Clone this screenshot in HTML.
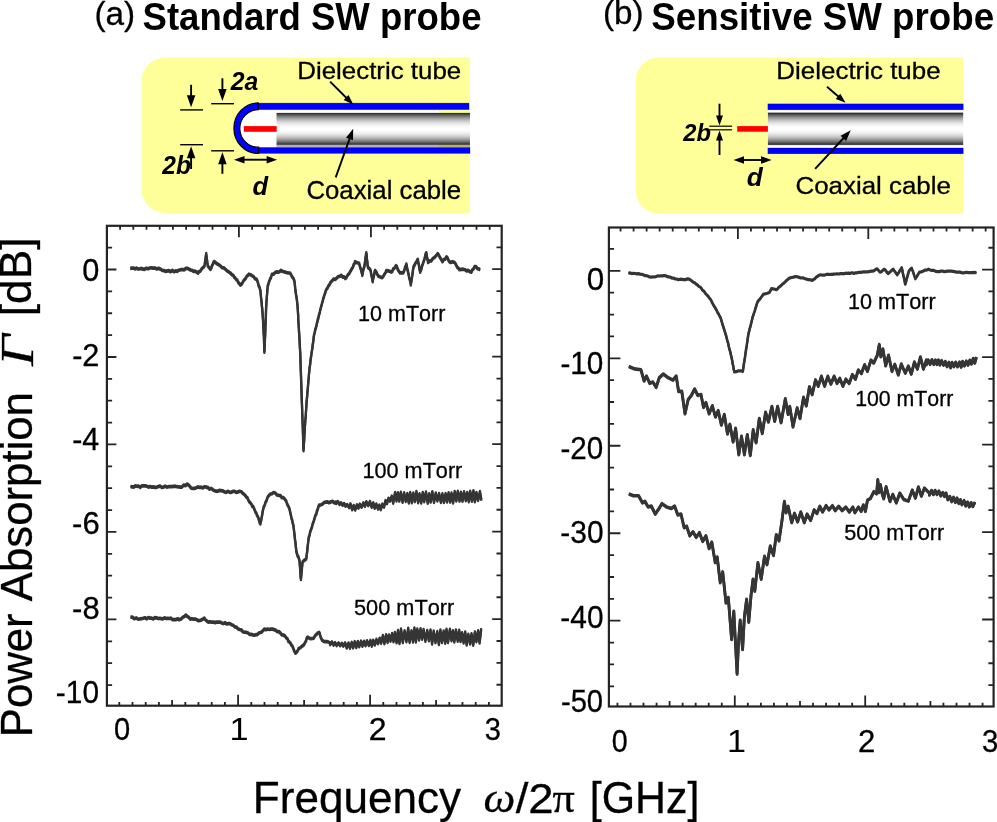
<!DOCTYPE html>
<html lang="en"><head><meta charset="utf-8"><title>SW probe power absorption spectra</title>
<style>
html,body{margin:0;padding:0;background:#fff;}
body{width:997px;height:822px;overflow:hidden;}
svg{display:block;}
text{font-kerning:none;white-space:pre;}
</style></head><body>
<svg width="997" height="822" viewBox="0 0 997 822">
<defs>
<linearGradient id="cab" x1="0" y1="0" x2="0" y2="1">
<stop offset="0.00" stop-color="#242424"/><stop offset="0.06" stop-color="#555555"/><stop offset="0.12" stop-color="#818181"/><stop offset="0.18" stop-color="#a5a5a5"/><stop offset="0.25" stop-color="#c8c8c8"/><stop offset="0.32" stop-color="#e3e3e3"/><stop offset="0.38" stop-color="#f2f2f2"/><stop offset="0.44" stop-color="#fcfcfc"/><stop offset="0.50" stop-color="#ffffff"/><stop offset="0.56" stop-color="#fcfcfc"/><stop offset="0.62" stop-color="#f2f2f2"/><stop offset="0.68" stop-color="#e3e3e3"/><stop offset="0.75" stop-color="#c8c8c8"/><stop offset="0.82" stop-color="#a5a5a5"/><stop offset="0.88" stop-color="#818181"/><stop offset="0.94" stop-color="#555555"/><stop offset="1.00" stop-color="#242424"/>
</linearGradient>
<filter id="bl" filterUnits="userSpaceOnUse" x="100" y="220" width="897" height="500"><feGaussianBlur stdDeviation="0.55"/></filter>
</defs>
<rect x="0" y="0" width="997" height="822" fill="#ffffff"/>

<text transform="matrix(0.9764,0,0,1,94.43,24.53)" font-family='"Liberation Sans", Arial, Helvetica, sans-serif' font-size="34.13" stroke="#000" stroke-width="0.3" fill="#000">(a)</text>
<text transform="matrix(0.9260,0,0,1,142.55,29.60)" font-family='"Liberation Sans", Arial, Helvetica, sans-serif' font-size="39.47" font-weight="bold" fill="#000">Standard SW probe</text>
<text transform="matrix(0.9768,0,0,1,602.94,24.26)" font-family='"Liberation Sans", Arial, Helvetica, sans-serif' font-size="34.03" stroke="#000" stroke-width="0.3" fill="#000">(b)</text>
<text transform="matrix(0.9307,0,0,1,651.34,29.60)" font-family='"Liberation Sans", Arial, Helvetica, sans-serif' font-size="39.47" font-weight="bold" fill="#000">Sensitive SW probe</text>
<path d="M470,57.5 H165.4 A24,24 0 0 0 141.4,81.5 V189 A24,24 0 0 0 165.4,213 H470 Z" fill="#ffff99"/>
<path d="M258.2,109.7 H439 V147.2 H258.6 A18.6,18.75 0 0 1 258.2,109.7 Z" fill="#fff"/>
<rect x="276.5" y="144.8" width="193.5" height="2.4" fill="#000" fill-opacity="0.3"/>
<rect x="276.5" y="112.9" width="193.5" height="31.9" fill="url(#cab)"/>
<rect x="258" y="103.1" width="211" height="6.5" fill="#0000ff" stroke="#000" stroke-opacity="0.55" stroke-width="0.5"/>
<rect x="258" y="147.5" width="212" height="5.9" fill="#0000ff" stroke="#000" stroke-opacity="0.55" stroke-width="0.5"/>
<path d="M258.2,102.9 A24.5,25.3 0 0 0 258.6,153.5 V147.2 A18.6,18.75 0 0 1 258.2,109.7 Z" fill="#0000ff" stroke="#000" stroke-width="1.2" stroke-linejoin="miter"/>
<rect x="243.8" y="126.1" width="32.9" height="5.7" fill="#ff0000"/>
<line x1="180.2" y1="109.9" x2="203" y2="109.9" stroke="#000" stroke-width="1.4"/>
<line x1="180.2" y1="144.7" x2="203" y2="144.7" stroke="#000" stroke-width="1.4"/>
<line x1="211.2" y1="103.7" x2="234" y2="103.7" stroke="#000" stroke-width="1.4"/>
<line x1="211.2" y1="150.8" x2="234" y2="150.8" stroke="#000" stroke-width="1.4"/>
<line x1="191.10" y1="84.80" x2="191.10" y2="97.70" stroke="#000" stroke-width="1.9"/>
<polygon points="191.10,107.30 186.85,95.30 195.35,95.30" fill="#000"/>
<line x1="222.40" y1="78.30" x2="222.40" y2="91.40" stroke="#000" stroke-width="1.9"/>
<polygon points="222.40,101.00 218.15,89.00 226.65,89.00" fill="#000"/>
<line x1="191.10" y1="169.00" x2="191.10" y2="155.80" stroke="#000" stroke-width="1.9"/>
<polygon points="191.10,146.20 195.35,158.20 186.85,158.20" fill="#000"/>
<line x1="222.40" y1="173.80" x2="222.40" y2="161.80" stroke="#000" stroke-width="1.9"/>
<polygon points="222.40,152.20 226.65,164.20 218.15,164.20" fill="#000"/>
<line x1="242.40" y1="159.70" x2="268.70" y2="159.70" stroke="#000" stroke-width="1.9"/>
<polygon points="277.10,159.70 266.60,163.45 266.60,155.95" fill="#000"/>
<polygon points="234.00,159.70 244.50,163.45 244.50,155.95" fill="#000"/>
<line x1="330.10" y1="81.70" x2="347.52" y2="98.97" stroke="#000" stroke-width="1.9"/>
<polygon points="353.20,104.60 343.63,100.05 348.56,95.07" fill="#000"/>
<line x1="335.70" y1="177.40" x2="350.22" y2="136.98" stroke="#000" stroke-width="1.9"/>
<polygon points="353.20,128.70 353.01,140.32 345.95,137.78" fill="#000"/>
<text transform="matrix(0.9903,0,0,1,230.69,90.26)" font-family='"Liberation Sans", Arial, Helvetica, sans-serif' font-size="25.00" font-weight="bold" font-style="italic" fill="#000">2a</text>
<text transform="matrix(0.9843,0,0,1,162.28,173.86)" font-family='"Liberation Sans", Arial, Helvetica, sans-serif' font-size="24.92" font-weight="bold" font-style="italic" fill="#000">2b</text>
<text transform="matrix(1.0247,0,0,1,252.58,195.34)" font-family='"Liberation Sans", Arial, Helvetica, sans-serif' font-size="24.90" font-weight="bold" font-style="italic" fill="#000">d</text>
<text transform="matrix(1.0618,0,0,1,297.28,79.06)" font-family='"Liberation Sans", Arial, Helvetica, sans-serif' font-size="24.37" stroke="#000" stroke-width="0.3" fill="#000">Dielectric tube</text>
<text transform="matrix(1.0239,0,0,1,306.39,199.45)" font-family='"Liberation Sans", Arial, Helvetica, sans-serif' font-size="25.19" stroke="#000" stroke-width="0.3" fill="#000">Coaxial cable</text>
<path d="M963.2,57.4 H658.7 A23,23 0 0 0 635.7,80.4 V190.6 A23,23 0 0 0 658.7,213.6 H963.2 Z" fill="#ffff99"/>
<rect x="767.9" y="109.8" width="195.3" height="38.2" fill="#fff"/>
<rect x="767.9" y="112.8" width="195.3" height="32.0" fill="url(#cab)"/>
<path d="M767.9,112.8H963.2M767.9,144.8H963.2" stroke="#000" stroke-opacity="0.5" stroke-width="0.5" fill="none"/>
<rect x="767.9" y="103.9" width="195.3" height="5.9" fill="#0000ff" stroke="#000" stroke-opacity="0.55" stroke-width="0.5"/>
<rect x="767.9" y="148.0" width="195.3" height="5.8" fill="#0000ff" stroke="#000" stroke-opacity="0.55" stroke-width="0.5"/>
<rect x="737.2" y="126.1" width="30.7" height="5.6" fill="#ff0000"/>
<line x1="709.3" y1="126.2" x2="732.1" y2="126.2" stroke="#000" stroke-width="1.2"/>
<line x1="709.3" y1="129.8" x2="732.1" y2="129.8" stroke="#000" stroke-width="1.2"/>
<line x1="719.50" y1="103.70" x2="719.50" y2="117.60" stroke="#000" stroke-width="1.9"/>
<polygon points="719.50,125.60 716.00,115.60 723.00,115.60" fill="#000"/>
<line x1="719.50" y1="155.00" x2="719.50" y2="138.60" stroke="#000" stroke-width="1.9"/>
<polygon points="719.50,130.60 723.00,140.60 716.00,140.60" fill="#000"/>
<line x1="741.90" y1="160.00" x2="763.10" y2="160.00" stroke="#000" stroke-width="1.9"/>
<polygon points="771.50,160.00 761.00,163.75 761.00,156.25" fill="#000"/>
<polygon points="733.50,160.00 744.00,163.75 744.00,156.25" fill="#000"/>
<line x1="827.00" y1="86.80" x2="839.54" y2="97.58" stroke="#000" stroke-width="1.9"/>
<polygon points="845.60,102.80 835.74,98.93 840.30,93.63" fill="#000"/>
<line x1="815.10" y1="168.90" x2="844.82" y2="136.76" stroke="#000" stroke-width="1.9"/>
<polygon points="850.80,130.30 846.08,140.92 840.58,135.83" fill="#000"/>
<text transform="matrix(0.9653,0,0,1,683.27,140.96)" font-family='"Liberation Sans", Arial, Helvetica, sans-serif' font-size="24.51" font-weight="bold" font-style="italic" fill="#000">2b</text>
<text transform="matrix(1.0345,0,0,1,746.66,185.94)" font-family='"Liberation Sans", Arial, Helvetica, sans-serif' font-size="25.31" font-weight="bold" font-style="italic" fill="#000">d</text>
<text transform="matrix(1.0881,0,0,1,776.37,78.97)" font-family='"Liberation Sans", Arial, Helvetica, sans-serif' font-size="23.83" stroke="#000" stroke-width="0.3" fill="#000">Dielectric tube</text>
<text transform="matrix(1.0442,0,0,1,795.49,193.76)" font-family='"Liberation Sans", Arial, Helvetica, sans-serif' font-size="24.78" stroke="#000" stroke-width="0.3" fill="#000">Coaxial cable</text>
<rect x="106.9" y="225.8" width="394.80" height="479.90" fill="none" stroke="#242424" stroke-width="2.2"/>
<path d="M119.30,705.70L119.30,701.90M132.50,705.70L132.50,701.90M145.70,705.70L145.70,701.90M158.90,705.70L158.90,701.90M172.10,705.70L172.10,700.10M185.30,705.70L185.30,701.90M198.50,705.70L198.50,701.90M211.70,705.70L211.70,701.90M224.90,705.70L224.90,701.90M238.10,705.70L238.10,694.70M251.30,705.70L251.30,701.90M264.50,705.70L264.50,701.90M277.70,705.70L277.70,701.90M290.90,705.70L290.90,701.90M304.10,705.70L304.10,700.10M317.30,705.70L317.30,701.90M330.50,705.70L330.50,701.90M343.70,705.70L343.70,701.90M356.90,705.70L356.90,701.90M370.10,705.70L370.10,694.70M383.30,705.70L383.30,701.90M396.50,705.70L396.50,701.90M409.70,705.70L409.70,701.90M422.90,705.70L422.90,701.90M436.10,705.70L436.10,700.10M449.30,705.70L449.30,701.90M462.50,705.70L462.50,701.90M475.70,705.70L475.70,701.90M488.90,705.70L488.90,701.90M120.10,225.80L120.10,229.80M133.30,225.80L133.30,229.80M146.50,225.80L146.50,229.80M159.70,225.80L159.70,229.80M172.90,225.80L172.90,229.80M186.10,225.80L186.10,229.80M199.30,225.80L199.30,229.80M212.50,225.80L212.50,229.80M225.70,225.80L225.70,229.80M238.90,225.80L238.90,237.30M252.10,225.80L252.10,229.80M265.30,225.80L265.30,229.80M278.50,225.80L278.50,229.80M291.70,225.80L291.70,229.80M304.90,225.80L304.90,229.80M318.10,225.80L318.10,229.80M331.30,225.80L331.30,229.80M344.50,225.80L344.50,229.80M357.70,225.80L357.70,229.80M370.90,225.80L370.90,237.30M384.10,225.80L384.10,229.80M397.30,225.80L397.30,229.80M410.50,225.80L410.50,229.80M423.70,225.80L423.70,229.80M436.90,225.80L436.90,229.80M450.10,225.80L450.10,229.80M463.30,225.80L463.30,229.80M476.50,225.80L476.50,229.80M489.70,225.80L489.70,229.80M106.90,247.63L112.10,247.63M501.70,247.33L496.50,247.33M106.90,269.50L116.40,269.50M501.70,269.20L492.20,269.20M106.90,291.37L112.10,291.37M501.70,291.07L496.50,291.07M106.90,313.24L112.10,313.24M501.70,312.94L496.50,312.94M106.90,335.11L112.10,335.11M501.70,334.81L496.50,334.81M106.90,356.98L116.40,356.98M501.70,356.68L492.20,356.68M106.90,378.85L112.10,378.85M501.70,378.55L496.50,378.55M106.90,400.72L112.10,400.72M501.70,400.42L496.50,400.42M106.90,422.59L112.10,422.59M501.70,422.29L496.50,422.29M106.90,444.46L116.40,444.46M501.70,444.16L492.20,444.16M106.90,466.33L112.10,466.33M501.70,466.03L496.50,466.03M106.90,488.20L112.10,488.20M501.70,487.90L496.50,487.90M106.90,510.07L112.10,510.07M501.70,509.77L496.50,509.77M106.90,531.94L116.40,531.94M501.70,531.64L492.20,531.64M106.90,553.81L112.10,553.81M501.70,553.51L496.50,553.51M106.90,575.68L112.10,575.68M501.70,575.38L496.50,575.38M106.90,597.55L112.10,597.55M501.70,597.25L496.50,597.25M106.90,619.42L116.40,619.42M501.70,619.12L492.20,619.12M106.90,641.29L112.10,641.29M501.70,640.99L496.50,640.99M106.90,663.16L112.10,663.16M501.70,662.86L496.50,662.86M106.90,685.03L112.10,685.03M501.70,684.73L496.50,684.73" stroke="#242424" stroke-width="1.8" fill="none"/>
<rect x="608.9" y="227.5" width="384.70" height="479.00" fill="none" stroke="#242424" stroke-width="2.2"/>
<path d="M617.44,706.50L617.44,702.70M630.48,706.50L630.48,702.70M643.52,706.50L643.52,702.70M656.56,706.50L656.56,702.70M669.60,706.50L669.60,700.90M682.64,706.50L682.64,702.70M695.68,706.50L695.68,702.70M708.72,706.50L708.72,702.70M721.76,706.50L721.76,702.70M734.80,706.50L734.80,695.50M747.84,706.50L747.84,702.70M760.88,706.50L760.88,702.70M773.92,706.50L773.92,702.70M786.96,706.50L786.96,702.70M800.00,706.50L800.00,700.90M813.04,706.50L813.04,702.70M826.08,706.50L826.08,702.70M839.12,706.50L839.12,702.70M852.16,706.50L852.16,702.70M865.20,706.50L865.20,695.50M878.24,706.50L878.24,702.70M891.28,706.50L891.28,702.70M904.32,706.50L904.32,702.70M917.36,706.50L917.36,702.70M930.40,706.50L930.40,700.90M943.44,706.50L943.44,702.70M956.48,706.50L956.48,702.70M969.52,706.50L969.52,702.70M982.56,706.50L982.56,702.70M620.54,227.50L620.54,231.50M633.58,227.50L633.58,231.50M646.62,227.50L646.62,231.50M659.66,227.50L659.66,231.50M672.70,227.50L672.70,231.50M685.74,227.50L685.74,231.50M698.78,227.50L698.78,231.50M711.82,227.50L711.82,231.50M724.86,227.50L724.86,231.50M737.90,227.50L737.90,239.00M750.94,227.50L750.94,231.50M763.98,227.50L763.98,231.50M777.02,227.50L777.02,231.50M790.06,227.50L790.06,231.50M803.10,227.50L803.10,231.50M816.14,227.50L816.14,231.50M829.18,227.50L829.18,231.50M842.22,227.50L842.22,231.50M855.26,227.50L855.26,231.50M868.30,227.50L868.30,239.00M881.34,227.50L881.34,231.50M894.38,227.50L894.38,231.50M907.42,227.50L907.42,231.50M920.46,227.50L920.46,231.50M933.50,227.50L933.50,231.50M946.54,227.50L946.54,231.50M959.58,227.50L959.58,231.50M972.62,227.50L972.62,231.50M985.66,227.50L985.66,231.50M608.90,248.93L614.10,248.93M993.60,247.73L988.40,247.73M608.90,270.80L620.40,270.80M993.60,269.60L982.10,269.60M608.90,292.67L614.10,292.67M993.60,291.47L988.40,291.47M608.90,314.54L614.10,314.54M993.60,313.34L988.40,313.34M608.90,336.41L614.10,336.41M993.60,335.21L988.40,335.21M608.90,358.28L620.40,358.28M993.60,357.08L982.10,357.08M608.90,380.15L614.10,380.15M993.60,378.95L988.40,378.95M608.90,402.02L614.10,402.02M993.60,400.82L988.40,400.82M608.90,423.89L614.10,423.89M993.60,422.69L988.40,422.69M608.90,445.76L620.40,445.76M993.60,444.56L982.10,444.56M608.90,467.63L614.10,467.63M993.60,466.43L988.40,466.43M608.90,489.50L614.10,489.50M993.60,488.30L988.40,488.30M608.90,511.37L614.10,511.37M993.60,510.17L988.40,510.17M608.90,533.24L620.40,533.24M993.60,532.04L982.10,532.04M608.90,555.11L614.10,555.11M993.60,553.91L988.40,553.91M608.90,576.98L614.10,576.98M993.60,575.78L988.40,575.78M608.90,598.85L614.10,598.85M993.60,597.65L988.40,597.65M608.90,620.72L620.40,620.72M993.60,619.52L982.10,619.52M608.90,642.59L614.10,642.59M993.60,641.39L988.40,641.39M608.90,664.46L614.10,664.46M993.60,663.26L988.40,663.26M608.90,686.33L614.10,686.33M993.60,685.13L988.40,685.13" stroke="#242424" stroke-width="1.8" fill="none"/>
<text transform="matrix(1.0049,0,0,1,82.20,280.98)" font-family='"Liberation Sans", Arial, Helvetica, sans-serif' font-size="30.60" stroke="#000" stroke-width="0.3" fill="#000">0</text>
<text transform="matrix(1.0037,0,0,1,72.14,365.83)" font-family='"Liberation Sans", Arial, Helvetica, sans-serif' font-size="30.60" stroke="#000" stroke-width="0.3" fill="#000">-2</text>
<text transform="matrix(0.9939,0,0,1,72.15,449.78)" font-family='"Liberation Sans", Arial, Helvetica, sans-serif' font-size="30.60" stroke="#000" stroke-width="0.3" fill="#000">-4</text>
<text transform="matrix(1.0121,0,0,1,72.12,534.18)" font-family='"Liberation Sans", Arial, Helvetica, sans-serif' font-size="30.60" stroke="#000" stroke-width="0.3" fill="#000">-6</text>
<text transform="matrix(1.0115,0,0,1,72.12,618.58)" font-family='"Liberation Sans", Arial, Helvetica, sans-serif' font-size="30.60" stroke="#000" stroke-width="0.3" fill="#000">-8</text>
<text transform="matrix(0.9767,0,0,1,55.87,703.18)" font-family='"Liberation Sans", Arial, Helvetica, sans-serif' font-size="30.60" stroke="#000" stroke-width="0.3" fill="#000">-10</text>
<text transform="matrix(0.9503,0,0,1,114.06,740.48)" font-family='"Liberation Sans", Arial, Helvetica, sans-serif' font-size="30.60" stroke="#000" stroke-width="0.3" fill="#000">0</text>
<text transform="matrix(1.1200,0,0,1,229.45,740.38)" font-family='"Liberation Sans", Arial, Helvetica, sans-serif' font-size="30.60" fill="#000">1</text>
<text transform="matrix(1.0473,0,0,1,368.79,740.43)" font-family='"Liberation Sans", Arial, Helvetica, sans-serif' font-size="30.60" stroke="#000" stroke-width="0.3" fill="#000">2</text>
<text transform="matrix(0.9512,0,0,1,484.79,740.48)" font-family='"Liberation Sans", Arial, Helvetica, sans-serif' font-size="30.60" stroke="#000" stroke-width="0.3" fill="#000">3</text>
<text transform="matrix(1.0255,0,0,1,586.77,289.98)" font-family='"Liberation Sans", Arial, Helvetica, sans-serif' font-size="30.60" stroke="#000" stroke-width="0.3" fill="#000">0</text>
<text transform="matrix(0.9719,0,0,1,560.38,373.88)" font-family='"Liberation Sans", Arial, Helvetica, sans-serif' font-size="30.60" stroke="#000" stroke-width="0.3" fill="#000">-10</text>
<text transform="matrix(0.9671,0,0,1,560.39,458.58)" font-family='"Liberation Sans", Arial, Helvetica, sans-serif' font-size="30.60" stroke="#000" stroke-width="0.3" fill="#000">-20</text>
<text transform="matrix(0.9791,0,0,1,560.37,542.78)" font-family='"Liberation Sans", Arial, Helvetica, sans-serif' font-size="30.60" stroke="#000" stroke-width="0.3" fill="#000">-30</text>
<text transform="matrix(0.9767,0,0,1,560.37,627.58)" font-family='"Liberation Sans", Arial, Helvetica, sans-serif' font-size="30.60" stroke="#000" stroke-width="0.3" fill="#000">-40</text>
<text transform="matrix(0.9551,0,0,1,560.90,712.28)" font-family='"Liberation Sans", Arial, Helvetica, sans-serif' font-size="30.60" stroke="#000" stroke-width="0.3" fill="#000">-50</text>
<text transform="matrix(0.9366,0,0,1,611.78,751.98)" font-family='"Liberation Sans", Arial, Helvetica, sans-serif' font-size="30.60" stroke="#000" stroke-width="0.3" fill="#000">0</text>
<text transform="matrix(1.1200,0,0,1,727.05,752.08)" font-family='"Liberation Sans", Arial, Helvetica, sans-serif' font-size="30.60" fill="#000">1</text>
<text transform="matrix(1.0186,0,0,1,857.93,752.33)" font-family='"Liberation Sans", Arial, Helvetica, sans-serif' font-size="30.60" stroke="#000" stroke-width="0.3" fill="#000">2</text>
<text transform="matrix(0.9581,0,0,1,981.88,751.98)" font-family='"Liberation Sans", Arial, Helvetica, sans-serif' font-size="30.60" stroke="#000" stroke-width="0.3" fill="#000">3</text>
<text transform="matrix(0.9546,0,0,1,357.96,320.98)" font-family='"Liberation Sans", Arial, Helvetica, sans-serif' font-size="22.60" stroke="#000" stroke-width="0.3" fill="#000">10 mTorr</text>
<text transform="matrix(0.9585,0,0,1,362.45,478.08)" font-family='"Liberation Sans", Arial, Helvetica, sans-serif' font-size="22.60" stroke="#000" stroke-width="0.3" fill="#000">100 mTorr</text>
<text transform="matrix(0.9556,0,0,1,354.03,615.18)" font-family='"Liberation Sans", Arial, Helvetica, sans-serif' font-size="22.74" stroke="#000" stroke-width="0.3" fill="#000">500 mTorr</text>
<text transform="matrix(0.9762,0,0,1,847.95,309.08)" font-family='"Liberation Sans", Arial, Helvetica, sans-serif' font-size="22.17" stroke="#000" stroke-width="0.3" fill="#000">10 mTorr</text>
<text transform="matrix(0.9796,0,0,1,855.18,406.39)" font-family='"Liberation Sans", Arial, Helvetica, sans-serif' font-size="21.75" stroke="#000" stroke-width="0.3" fill="#000">100 mTorr</text>
<text transform="matrix(0.9587,0,0,1,844.23,540.38)" font-family='"Liberation Sans", Arial, Helvetica, sans-serif' font-size="22.60" stroke="#000" stroke-width="0.3" fill="#000">500 mTorr</text>
<text transform="matrix(0.9848,0,0,1,252.78,812.70)" font-family='"Liberation Sans", Arial, Helvetica, sans-serif' font-size="44.77" stroke="#000" stroke-width="0.3" fill="#000">Frequency</text>
<text transform="matrix(1.0859,0,0,1,483.40,812.29)" font-family='"Liberation Serif", "Times New Roman", serif' font-size="41.59" stroke="#000" stroke-width="0.3" font-style="italic" fill="#000">ω</text>
<text transform="matrix(1.0648,0,0,1,515.70,812.60)" font-family='"Liberation Sans", Arial, Helvetica, sans-serif' font-size="42.78" stroke="#000" stroke-width="0.3" fill="#000">/2</text>
<text transform="matrix(1.0658,0,0,1,552.40,812.30)" font-family='"Liberation Serif", "Times New Roman", serif' font-size="41.39" stroke="#000" stroke-width="0.3" fill="#000">π</text>
<text transform="matrix(0.9652,0,0,1,589.74,812.60)" font-family='"Liberation Sans", Arial, Helvetica, sans-serif' font-size="44.44" stroke="#000" stroke-width="0.3" fill="#000">[GHz]</text>
<g transform="rotate(-90)">
<text transform="matrix(0.9938,0,0,1,-737.29,31.90)" font-family='"Liberation Sans", Arial, Helvetica, sans-serif' font-size="44.02" stroke="#000" stroke-width="0.3" fill="#000">Power Absorption</text>
<text transform="matrix(1.1805,0,0,1,-366.04,32.50)" font-family='"Liberation Serif", "Times New Roman", serif' font-size="46.89" stroke="#000" stroke-width="0.3" font-style="italic" fill="#000">Γ</text>
<text transform="matrix(1.0184,0,0,1,-316.25,31.48)" font-family='"Liberation Sans", Arial, Helvetica, sans-serif' font-size="43.45" stroke="#000" stroke-width="0.3" fill="#000">[dB]</text>
</g>
<g fill="none" stroke="#343434" stroke-width="2.3" stroke-linejoin="round" stroke-linecap="butt" filter="url(#bl)"><path d="M130.2,267.7 L131.8,267.5 L133.4,267.3 L135.0,268.2 L136.6,267.4 L138.2,268.3 L139.8,268.1 L141.4,267.7 L143.0,268.5 L144.6,268.6 L146.3,267.6 L148.1,268.1 L149.8,267.3 L151.5,267.1 L153.3,267.4 L155.0,267.3 L156.8,268.3 L158.6,267.7 L160.5,268.4 L162.3,269.6 L164.1,269.9 L165.7,270.7 L167.4,270.2 L169.0,270.0 L170.6,271.0 L172.3,269.6 L173.9,271.0 L175.6,270.2 L177.2,270.6 L178.9,269.5 L180.7,269.0 L182.4,268.8 L184.1,269.2 L185.9,267.7 L187.6,267.7 L189.1,268.5 L190.6,269.3 L192.1,269.6 L193.5,270.6 L195.0,270.5 L196.5,271.2 L198.0,272.6 L199.1,270.9 L200.2,270.5 L201.2,268.9 L202.3,267.5 L203.4,266.7 L204.5,265.4 L204.7,263.6 L205.0,261.5 L205.2,260.6 L205.5,258.6 L205.7,256.1 L206.0,254.9 L206.2,253.0 L206.4,254.8 L206.7,257.1 L206.9,258.7 L207.1,259.7 L207.3,262.6 L207.6,263.0 L207.8,265.4 L209.1,266.9 L210.4,268.6 L211.2,267.5 L212.0,264.9 L212.7,263.9 L213.5,261.6 L214.3,260.8 L215.8,262.2 L217.4,263.4 L218.9,264.1 L220.5,265.3 L222.2,267.0 L223.8,267.2 L225.4,268.6 L226.7,269.9 L228.0,270.7 L229.3,271.7 L230.6,272.5 L231.9,274.1 L233.2,274.5 L234.2,276.6 L235.3,277.3 L236.3,279.0 L237.3,279.4 L238.3,281.8 L239.4,283.1 L240.4,284.3 L241.5,283.7 L242.5,282.1 L243.6,279.9 L244.7,278.7 L245.7,277.8 L246.8,275.4 L247.8,274.8 L248.9,273.5 L250.5,274.0 L252.0,275.0 L253.6,275.9 L255.1,278.1 L256.7,278.7 L257.2,279.7 L257.8,281.6 L258.3,283.5 L258.9,285.9 L259.4,286.2 L260.0,288.5 L260.5,290.2 L260.6,291.9 L260.8,294.1 L260.9,295.6 L261.1,297.4 L261.2,298.1 L261.4,299.9 L261.6,301.5 L261.7,304.0 L261.9,305.7 L262.0,306.1 L262.2,307.8 L262.3,309.5 L262.5,311.1 L262.6,313.2 L262.7,314.8 L262.8,316.6 L262.9,317.7 L263.0,319.0 L263.1,321.3 L263.2,322.8 L263.2,324.8 L263.3,327.1 L263.4,328.3 L263.5,329.7 L263.6,331.5 L263.7,333.2 L263.8,333.8 L263.9,336.2 L264.0,338.5 L264.0,340.0 L264.1,341.9 L264.1,343.5 L264.2,344.5 L264.2,346.2 L264.3,347.5 L264.3,350.0 L264.4,351.5 L264.5,349.1 L264.6,347.4 L264.6,345.9 L264.7,344.2 L264.8,342.7 L264.9,340.6 L264.9,338.8 L265.0,337.3 L265.1,336.2 L265.2,333.9 L265.2,332.8 L265.3,330.6 L265.3,330.3 L265.4,328.3 L265.4,325.9 L265.5,324.5 L265.6,323.0 L265.6,321.4 L265.7,319.4 L265.7,319.0 L265.8,317.6 L265.9,315.1 L265.9,313.6 L266.0,311.3 L266.0,309.7 L266.1,308.5 L266.1,306.7 L266.2,305.5 L266.3,304.3 L266.4,301.6 L266.6,299.6 L266.7,299.4 L266.8,297.0 L266.9,294.7 L267.1,293.7 L267.2,291.1 L267.3,290.2 L267.4,289.3 L267.6,287.4 L267.7,285.1 L268.3,283.8 L268.9,281.4 L269.5,280.0 L270.2,278.0 L270.8,277.3 L271.4,275.3 L272.0,273.6 L273.5,273.4 L275.0,272.0 L276.5,271.2 L278.0,271.5 L279.5,271.1 L281.0,269.7 L282.8,270.8 L284.6,271.2 L286.3,271.8 L288.1,272.2 L289.9,272.3 L290.8,273.4 L291.7,275.4 L292.5,276.7 L293.4,277.7 L294.3,280.0 L294.5,280.8 L294.7,282.8 L294.9,284.4 L295.1,286.7 L295.3,288.7 L295.5,289.5 L295.7,291.9 L296.0,293.5 L296.2,295.1 L296.4,295.7 L296.6,297.1 L296.8,298.7 L297.0,300.2 L297.2,301.8 L297.4,304.1 L297.6,305.5 L297.7,307.8 L297.8,309.3 L297.9,310.4 L298.0,312.3 L298.1,314.2 L298.2,314.7 L298.2,317.3 L298.3,319.3 L298.4,320.7 L298.5,322.3 L298.6,323.5 L298.7,324.7 L298.8,327.3 L298.9,328.2 L299.0,330.6 L299.1,332.5 L299.2,333.3 L299.3,334.9 L299.4,337.4 L299.5,338.7 L299.6,339.5 L299.6,341.0 L299.7,342.7 L299.8,345.6 L299.9,347.1 L300.0,347.6 L300.1,350.4 L300.2,351.5 L300.3,353.9 L300.3,355.0 L300.4,356.2 L300.4,358.2 L300.5,359.2 L300.5,360.6 L300.6,363.8 L300.6,364.9 L300.7,366.4 L300.7,368.7 L300.8,369.5 L300.9,371.9 L300.9,373.5 L301.0,374.1 L301.0,375.8 L301.1,377.5 L301.1,379.1 L301.2,381.3 L301.2,382.4 L301.3,384.3 L301.4,385.5 L301.4,388.4 L301.5,389.2 L301.5,391.0 L301.6,392.8 L301.6,395.0 L301.7,395.9 L301.7,398.3 L301.8,399.3 L301.8,401.0 L301.9,402.6 L302.0,404.3 L302.0,405.1 L302.1,407.4 L302.1,408.6 L302.2,409.9 L302.2,412.8 L302.3,413.4 L302.4,415.5 L302.4,417.5 L302.5,418.8 L302.5,420.1 L302.6,422.0 L302.7,423.7 L302.7,425.7 L302.8,426.2 L302.8,428.5 L302.9,429.7 L302.9,431.3 L303.0,433.3 L303.1,435.4 L303.1,436.6 L303.1,438.4 L303.2,440.4 L303.2,442.3 L303.3,443.2 L303.4,445.1 L303.4,446.6 L303.4,448.3 L303.5,449.9 L303.6,448.5 L303.7,446.5 L303.8,445.0 L303.9,443.2 L304.0,442.3 L304.1,440.3 L304.2,438.9 L304.3,437.3 L304.4,434.6 L304.5,433.3 L304.6,431.8 L304.7,430.8 L304.8,429.0 L304.9,426.3 L305.0,424.6 L305.1,423.5 L305.2,421.3 L305.3,420.0 L305.4,418.1 L305.6,417.4 L305.7,416.0 L305.8,414.5 L305.9,411.7 L306.0,411.0 L306.1,409.3 L306.2,406.9 L306.3,406.4 L306.4,405.0 L306.5,402.6 L306.6,400.5 L306.8,400.1 L306.9,397.6 L307.1,396.1 L307.2,395.2 L307.3,393.4 L307.5,390.7 L307.6,389.5 L307.8,388.0 L307.9,386.1 L308.1,384.2 L308.2,382.8 L308.3,381.8 L308.5,379.0 L308.6,378.3 L308.8,376.5 L308.9,374.2 L309.0,373.0 L309.2,371.9 L309.3,370.1 L309.5,367.7 L309.6,366.8 L309.8,365.9 L310.1,363.9 L310.3,362.6 L310.5,359.5 L310.8,358.1 L311.0,356.1 L311.2,355.6 L311.4,353.2 L311.7,351.3 L311.9,350.1 L312.1,349.2 L312.4,347.4 L312.6,344.8 L312.8,343.0 L313.1,342.6 L313.3,340.4 L313.5,338.9 L313.7,336.3 L314.0,334.6 L314.2,333.6 L314.6,332.3 L315.0,330.3 L315.4,328.1 L315.8,327.9 L316.2,325.8 L316.6,324.5 L317.0,321.8 L317.4,321.4 L317.8,318.6 L318.2,318.2 L318.6,316.0 L319.0,314.2 L319.4,313.0 L319.8,312.0 L320.2,309.3 L320.6,308.1 L321.1,305.9 L321.5,304.9 L322.0,302.8 L322.5,301.0 L322.9,299.4 L323.4,297.6 L323.8,296.2 L324.3,294.8 L324.8,293.1 L325.2,292.2 L325.7,290.2 L326.6,288.4 L327.5,287.3 L328.4,285.3 L329.4,284.1 L330.3,282.1 L331.2,281.1 L332.1,280.0 L333.7,278.3 L335.2,278.6 L336.8,277.4 L338.3,275.9 L339.8,275.5 L341.4,274.6 L342.7,276.4 L344.1,276.1 L345.4,277.8 L346.3,277.0 L347.3,275.0 L348.2,273.8 L349.1,273.0 L350.1,271.0 L351.0,269.8 L351.7,268.3 L352.4,267.2 L353.1,266.2 L353.7,263.7 L354.4,263.0 L355.1,261.0 L357.1,262.1 L359.1,262.6 L359.6,264.5 L360.0,265.9 L360.5,267.5 L360.9,268.7 L361.4,270.6 L361.8,272.2 L362.3,274.6 L362.6,273.4 L363.0,271.0 L363.3,269.3 L363.7,267.5 L364.0,267.1 L364.4,265.6 L364.7,263.4 L364.9,262.1 L365.2,259.8 L365.4,258.1 L365.6,256.6 L365.8,255.3 L366.1,253.2 L366.3,252.1 L366.5,253.6 L366.7,254.9 L366.8,257.7 L367.0,259.3 L367.2,260.2 L367.4,261.4 L367.5,264.1 L367.7,264.7 L367.9,266.6 L369.1,267.6 L370.3,269.0 L370.6,269.9 L371.0,272.2 L371.3,274.1 L371.7,275.9 L372.0,277.1 L372.4,279.3 L372.7,281.0 L373.0,278.6 L373.4,277.4 L373.7,275.5 L374.1,274.4 L374.4,272.3 L374.8,270.6 L375.1,269.8 L375.9,270.9 L376.7,272.2 L377.5,274.1 L378.3,275.4 L380.3,276.2 L382.3,277.0 L383.1,276.0 L383.9,274.4 L384.8,273.0 L385.6,271.8 L386.4,269.8 L388.0,270.2 L389.6,270.6 L391.2,271.4 L392.2,270.9 L393.1,268.3 L394.1,267.9 L395.0,266.5 L396.0,265.0 L396.8,265.7 L397.6,268.4 L398.4,269.9 L399.2,271.0 L400.0,272.2 L403.2,272.2 L403.8,270.8 L404.5,269.2 L405.1,266.3 L405.8,265.2 L406.4,263.4 L406.7,265.0 L407.1,267.1 L407.4,268.7 L407.8,270.3 L408.1,271.5 L408.5,273.6 L408.8,274.6 L409.1,276.5 L409.5,278.1 L409.8,279.0 L410.1,280.2 L410.5,282.0 L410.8,284.2 L411.1,282.3 L411.3,280.2 L411.6,279.7 L411.8,277.6 L412.1,276.0 L412.3,274.4 L412.6,272.8 L412.8,270.8 L413.1,268.4 L413.3,267.9 L413.6,265.8 L414.4,264.8 L415.2,262.9 L416.1,261.5 L416.9,260.3 L417.7,258.6 L418.0,259.5 L418.3,262.2 L418.6,263.0 L418.9,264.3 L419.2,266.2 L419.5,268.6 L419.8,269.3 L420.1,271.4 L420.6,270.2 L421.2,269.0 L421.7,266.6 L422.2,264.8 L422.8,263.4 L423.3,261.8 L423.8,260.5 L424.3,259.0 L424.8,257.1 L425.2,255.6 L425.7,253.0 L426.2,252.1 L426.5,253.2 L426.8,254.9 L427.1,257.3 L427.5,258.3 L427.8,260.3 L428.1,261.8 L429.7,260.2 L431.3,260.2 L432.4,258.3 L433.4,257.4 L434.5,256.8 L435.6,255.6 L436.6,254.4 L437.7,252.9 L438.7,254.2 L439.6,256.2 L440.6,257.7 L441.5,259.3 L442.5,261.0 L443.8,258.8 L445.2,258.4 L446.5,256.2 L447.5,257.1 L448.6,259.8 L449.6,261.1 L450.6,261.8 L452.6,261.0 L454.6,261.8 L455.6,263.2 L456.5,265.2 L457.5,266.9 L458.4,267.5 L459.4,269.0 L461.3,268.6 L463.1,268.5 L465.0,269.0 L466.6,270.3 L468.2,269.7 L469.8,270.9 L471.4,271.4 L472.2,269.4 L473.0,268.6 L473.8,267.9 L474.6,265.8 L476.0,266.0 L477.4,267.9 L478.8,268.2 L480.2,269.0"/><path d="M130.2,269.1 L131.8,268.9 L133.4,268.7 L135.0,269.6 L136.6,268.8 L138.2,269.7 L139.8,269.5 L141.4,269.1 L143.0,269.9 L144.6,270.0 L146.3,269.0 L148.1,269.5 L149.8,268.7 L151.5,268.5 L153.3,268.8 L155.0,268.7 L156.8,269.7 L158.6,269.1 L160.5,269.8 L162.3,271.0 L164.1,271.3 L165.7,272.1 L167.4,271.6 L169.0,271.4 L170.6,272.4 L172.3,271.0 L173.9,272.4 L175.6,271.6 L177.2,272.0 L178.9,270.9 L180.7,270.4 L182.4,270.2 L184.1,270.6 L185.9,269.1 L187.6,269.1 L189.1,269.9 L190.6,270.7 L192.1,271.0 L193.5,272.0 L195.0,271.9 L196.5,272.6 L198.0,274.0 L199.1,272.3 L200.2,271.9 L201.2,270.3 L202.3,268.9 L203.4,268.1 L204.5,266.8 L204.7,265.0 L205.0,262.9 L205.2,262.0 L205.5,260.0 L205.7,257.5 L206.0,256.3 L206.2,254.4 L206.4,256.2 L206.7,258.5 L206.9,260.1 L207.1,261.1 L207.3,264.0 L207.6,264.4 L207.8,266.8 L209.1,268.3 L210.4,270.0 L211.2,268.9 L212.0,266.3 L212.7,265.3 L213.5,263.0 L214.3,262.2 L215.8,263.6 L217.4,264.8 L218.9,265.5 L220.5,266.7 L222.2,268.4 L223.8,268.6 L225.4,270.0 L226.7,271.3 L228.0,272.1 L229.3,273.1 L230.6,273.9 L231.9,275.5 L233.2,275.9 L234.2,278.0 L235.3,278.7 L236.3,280.4 L237.3,280.8 L238.3,283.2 L239.4,284.5 L240.4,285.7 L241.5,285.1 L242.5,283.5 L243.6,281.3 L244.7,280.1 L245.7,279.2 L246.8,276.8 L247.8,276.2 L248.9,274.9 L250.5,275.4 L252.0,276.4 L253.6,277.3 L255.1,279.5 L256.7,280.1 L257.2,281.1 L257.8,283.0 L258.3,284.9 L258.9,287.3 L259.4,287.6 L260.0,289.9 L260.5,291.6 L260.6,293.3 L260.8,295.5 L260.9,297.0 L261.1,298.8 L261.2,299.5 L261.4,301.3 L261.6,302.9 L261.7,305.4 L261.9,307.1 L262.0,307.5 L262.2,309.2 L262.3,310.9 L262.5,312.5 L262.6,314.6 L262.7,316.2 L262.8,318.0 L262.9,319.1 L263.0,320.4 L263.1,322.7 L263.2,324.2 L263.2,326.2 L263.3,328.5 L263.4,329.7 L263.5,331.1 L263.6,332.9 L263.7,334.6 L263.8,335.2 L263.9,337.6 L264.0,339.9 L264.0,341.4 L264.1,343.3 L264.1,344.9 L264.2,345.9 L264.2,347.6 L264.3,348.9 L264.3,351.4 L264.4,352.9 L264.5,350.5 L264.6,348.8 L264.6,347.3 L264.7,345.6 L264.8,344.1 L264.9,342.0 L264.9,340.2 L265.0,338.7 L265.1,337.6 L265.2,335.3 L265.2,334.2 L265.3,332.0 L265.3,331.7 L265.4,329.7 L265.4,327.3 L265.5,325.9 L265.6,324.4 L265.6,322.8 L265.7,320.8 L265.7,320.4 L265.8,319.0 L265.9,316.5 L265.9,315.0 L266.0,312.7 L266.0,311.1 L266.1,309.9 L266.1,308.1 L266.2,306.9 L266.3,305.7 L266.4,303.0 L266.6,301.0 L266.7,300.8 L266.8,298.4 L266.9,296.1 L267.1,295.1 L267.2,292.5 L267.3,291.6 L267.4,290.7 L267.6,288.8 L267.7,286.5 L268.3,285.2 L268.9,282.8 L269.5,281.4 L270.2,279.4 L270.8,278.7 L271.4,276.7 L272.0,275.0 L273.5,274.8 L275.0,273.4 L276.5,272.6 L278.0,272.9 L279.5,272.5 L281.0,271.1 L282.8,272.2 L284.6,272.6 L286.3,273.2 L288.1,273.6 L289.9,273.7 L290.8,274.8 L291.7,276.8 L292.5,278.1 L293.4,279.1 L294.3,281.4 L294.5,282.2 L294.7,284.2 L294.9,285.8 L295.1,288.1 L295.3,290.1 L295.5,290.9 L295.7,293.3 L296.0,294.9 L296.2,296.5 L296.4,297.1 L296.6,298.5 L296.8,300.1 L297.0,301.6 L297.2,303.2 L297.4,305.5 L297.6,306.9 L297.7,309.2 L297.8,310.7 L297.9,311.8 L298.0,313.7 L298.1,315.6 L298.2,316.1 L298.2,318.7 L298.3,320.7 L298.4,322.1 L298.5,323.7 L298.6,324.9 L298.7,326.1 L298.8,328.7 L298.9,329.6 L299.0,332.0 L299.1,333.9 L299.2,334.7 L299.3,336.3 L299.4,338.8 L299.5,340.1 L299.6,340.9 L299.6,342.4 L299.7,344.1 L299.8,347.0 L299.9,348.5 L300.0,349.0 L300.1,351.8 L300.2,352.9 L300.3,355.3 L300.3,356.4 L300.4,357.6 L300.4,359.6 L300.5,360.6 L300.5,362.0 L300.6,365.2 L300.6,366.3 L300.7,367.8 L300.7,370.1 L300.8,370.9 L300.9,373.3 L300.9,374.9 L301.0,375.5 L301.0,377.2 L301.1,378.9 L301.1,380.5 L301.2,382.7 L301.2,383.8 L301.3,385.7 L301.4,386.9 L301.4,389.8 L301.5,390.6 L301.5,392.4 L301.6,394.2 L301.6,396.4 L301.7,397.3 L301.7,399.7 L301.8,400.7 L301.8,402.4 L301.9,404.0 L302.0,405.7 L302.0,406.5 L302.1,408.8 L302.1,410.0 L302.2,411.3 L302.2,414.2 L302.3,414.8 L302.4,416.9 L302.4,418.9 L302.5,420.2 L302.5,421.5 L302.6,423.4 L302.7,425.1 L302.7,427.1 L302.8,427.6 L302.8,429.9 L302.9,431.1 L302.9,432.7 L303.0,434.7 L303.1,436.8 L303.1,438.0 L303.1,439.8 L303.2,441.8 L303.2,443.7 L303.3,444.6 L303.4,446.5 L303.4,448.0 L303.4,449.7 L303.5,451.3 L303.6,449.9 L303.7,447.9 L303.8,446.4 L303.9,444.6 L304.0,443.7 L304.1,441.7 L304.2,440.3 L304.3,438.7 L304.4,436.0 L304.5,434.7 L304.6,433.2 L304.7,432.2 L304.8,430.4 L304.9,427.7 L305.0,426.0 L305.1,424.9 L305.2,422.7 L305.3,421.4 L305.4,419.5 L305.6,418.8 L305.7,417.4 L305.8,415.9 L305.9,413.1 L306.0,412.4 L306.1,410.7 L306.2,408.3 L306.3,407.8 L306.4,406.4 L306.5,404.0 L306.6,401.9 L306.8,401.5 L306.9,399.0 L307.1,397.5 L307.2,396.6 L307.3,394.8 L307.5,392.1 L307.6,390.9 L307.8,389.4 L307.9,387.5 L308.1,385.6 L308.2,384.2 L308.3,383.2 L308.5,380.4 L308.6,379.7 L308.8,377.9 L308.9,375.6 L309.0,374.4 L309.2,373.3 L309.3,371.5 L309.5,369.1 L309.6,368.2 L309.8,367.3 L310.1,365.3 L310.3,364.0 L310.5,360.9 L310.8,359.5 L311.0,357.5 L311.2,357.0 L311.4,354.6 L311.7,352.7 L311.9,351.5 L312.1,350.6 L312.4,348.8 L312.6,346.2 L312.8,344.4 L313.1,344.0 L313.3,341.8 L313.5,340.3 L313.7,337.7 L314.0,336.0 L314.2,335.0 L314.6,333.7 L315.0,331.7 L315.4,329.5 L315.8,329.3 L316.2,327.2 L316.6,325.9 L317.0,323.2 L317.4,322.8 L317.8,320.0 L318.2,319.6 L318.6,317.4 L319.0,315.6 L319.4,314.4 L319.8,313.4 L320.2,310.7 L320.6,309.5 L321.1,307.3 L321.5,306.3 L322.0,304.2 L322.5,302.4 L322.9,300.8 L323.4,299.0 L323.8,297.6 L324.3,296.2 L324.8,294.5 L325.2,293.6 L325.7,291.6 L326.6,289.8 L327.5,288.7 L328.4,286.7 L329.4,285.5 L330.3,283.5 L331.2,282.5 L332.1,281.4 L333.7,279.7 L335.2,280.0 L336.8,278.8 L338.3,277.3 L339.8,276.9 L341.4,276.0 L342.7,277.8 L344.1,277.5 L345.4,279.2 L346.3,278.4 L347.3,276.4 L348.2,275.2 L349.1,274.4 L350.1,272.4 L351.0,271.2 L351.7,269.7 L352.4,268.6 L353.1,267.6 L353.7,265.1 L354.4,264.4 L355.1,262.4 L357.1,263.5 L359.1,264.0 L359.6,265.9 L360.0,267.3 L360.5,268.9 L360.9,270.1 L361.4,272.0 L361.8,273.6 L362.3,276.0 L362.6,274.8 L363.0,272.4 L363.3,270.7 L363.7,268.9 L364.0,268.5 L364.4,267.0 L364.7,264.8 L364.9,263.5 L365.2,261.2 L365.4,259.5 L365.6,258.0 L365.8,256.7 L366.1,254.6 L366.3,253.5 L366.5,255.0 L366.7,256.3 L366.8,259.1 L367.0,260.7 L367.2,261.6 L367.4,262.8 L367.5,265.5 L367.7,266.1 L367.9,268.0 L369.1,269.0 L370.3,270.4 L370.6,271.3 L371.0,273.6 L371.3,275.5 L371.7,277.3 L372.0,278.5 L372.4,280.7 L372.7,282.4 L373.0,280.0 L373.4,278.8 L373.7,276.9 L374.1,275.8 L374.4,273.7 L374.8,272.0 L375.1,271.2 L375.9,272.3 L376.7,273.6 L377.5,275.5 L378.3,276.8 L380.3,277.6 L382.3,278.4 L383.1,277.4 L383.9,275.8 L384.8,274.4 L385.6,273.2 L386.4,271.2 L388.0,271.6 L389.6,272.0 L391.2,272.8 L392.2,272.3 L393.1,269.7 L394.1,269.3 L395.0,267.9 L396.0,266.4 L396.8,267.1 L397.6,269.8 L398.4,271.3 L399.2,272.4 L400.0,273.6 L403.2,273.6 L403.8,272.2 L404.5,270.6 L405.1,267.7 L405.8,266.6 L406.4,264.8 L406.7,266.4 L407.1,268.5 L407.4,270.1 L407.8,271.7 L408.1,272.9 L408.5,275.0 L408.8,276.0 L409.1,277.9 L409.5,279.5 L409.8,280.4 L410.1,281.6 L410.5,283.4 L410.8,285.6 L411.1,283.7 L411.3,281.6 L411.6,281.1 L411.8,279.0 L412.1,277.4 L412.3,275.8 L412.6,274.2 L412.8,272.2 L413.1,269.8 L413.3,269.3 L413.6,267.2 L414.4,266.2 L415.2,264.3 L416.1,262.9 L416.9,261.7 L417.7,260.0 L418.0,260.9 L418.3,263.6 L418.6,264.4 L418.9,265.7 L419.2,267.6 L419.5,270.0 L419.8,270.7 L420.1,272.8 L420.6,271.6 L421.2,270.4 L421.7,268.0 L422.2,266.2 L422.8,264.8 L423.3,263.2 L423.8,261.9 L424.3,260.4 L424.8,258.5 L425.2,257.0 L425.7,254.4 L426.2,253.5 L426.5,254.6 L426.8,256.3 L427.1,258.7 L427.5,259.7 L427.8,261.7 L428.1,263.2 L429.7,261.6 L431.3,261.6 L432.4,259.7 L433.4,258.8 L434.5,258.2 L435.6,257.0 L436.6,255.8 L437.7,254.3 L438.7,255.6 L439.6,257.6 L440.6,259.1 L441.5,260.7 L442.5,262.4 L443.8,260.2 L445.2,259.8 L446.5,257.6 L447.5,258.5 L448.6,261.2 L449.6,262.5 L450.6,263.2 L452.6,262.4 L454.6,263.2 L455.6,264.6 L456.5,266.6 L457.5,268.3 L458.4,268.9 L459.4,270.4 L461.3,270.0 L463.1,269.9 L465.0,270.4 L466.6,271.7 L468.2,271.1 L469.8,272.3 L471.4,272.8 L472.2,270.8 L473.0,270.0 L473.8,269.3 L474.6,267.2 L476.0,267.4 L477.4,269.3 L478.8,269.6 L480.2,270.4"/></g>
<g fill="none" stroke="#343434" stroke-width="2.3" stroke-linejoin="round" stroke-linecap="butt" filter="url(#bl)"><path d="M130.4,485.8 L132.0,486.1 L133.7,486.5 L135.3,485.2 L137.0,485.6 L138.6,485.3 L140.2,486.6 L141.9,485.2 L143.5,485.1 L145.2,485.1 L146.8,485.6 L148.5,486.4 L150.1,485.8 L151.8,486.4 L153.4,486.2 L155.1,486.7 L156.8,486.6 L158.5,485.7 L160.1,485.5 L161.8,486.7 L163.5,486.5 L165.1,485.4 L166.8,486.4 L168.5,486.0 L170.2,486.0 L171.8,486.0 L173.5,485.7 L175.2,485.5 L176.9,486.0 L178.5,486.1 L180.2,486.4 L181.9,486.4 L183.7,484.3 L185.4,484.9 L187.2,483.4 L188.5,484.3 L189.9,485.8 L191.2,487.4 L192.9,487.8 L194.6,487.7 L196.2,487.0 L197.9,486.2 L199.6,486.8 L201.3,486.5 L202.9,487.3 L204.6,486.0 L206.3,486.4 L207.9,486.9 L209.5,488.4 L211.1,487.7 L212.7,489.0 L214.3,489.8 L216.0,490.5 L217.6,490.6 L219.3,489.7 L221.0,489.9 L222.6,490.1 L224.3,491.0 L226.0,491.7 L227.7,490.6 L229.4,491.4 L231.1,491.6 L232.9,490.7 L234.6,490.6 L236.3,491.7 L238.0,491.2 L239.7,490.6 L241.4,491.0 L242.7,492.7 L243.9,493.4 L245.2,494.7 L246.4,496.4 L247.4,497.0 L248.4,499.6 L249.4,501.3 L250.4,502.2 L251.4,503.4 L252.2,505.6 L253.1,505.7 L253.9,507.5 L254.7,509.4 L255.6,511.7 L256.4,512.5 L257.0,514.7 L257.5,515.3 L258.1,516.6 L258.7,518.4 L259.3,520.1 L259.8,522.3 L260.4,523.1 L260.7,520.8 L261.1,520.1 L261.4,518.2 L261.7,516.6 L262.1,514.8 L262.4,512.8 L262.7,510.6 L263.1,508.9 L263.4,507.4 L264.0,505.7 L264.6,504.9 L265.3,502.2 L265.9,500.9 L266.5,500.3 L267.1,498.0 L267.8,496.2 L268.4,495.4 L270.1,493.5 L271.8,493.1 L273.5,491.8 L275.2,492.3 L277.0,494.2 L278.8,494.8 L280.5,495.0 L281.8,496.9 L283.0,496.8 L284.2,497.6 L285.5,499.4 L286.2,500.3 L286.8,502.4 L287.5,504.2 L288.2,505.3 L288.8,506.5 L289.5,508.4 L289.9,510.0 L290.3,512.0 L290.7,513.8 L291.1,515.6 L291.5,517.5 L291.9,518.9 L292.3,519.8 L292.7,522.6 L293.1,523.5 L293.5,525.5 L293.7,527.2 L293.9,528.6 L294.1,530.8 L294.2,531.5 L294.4,533.3 L294.6,534.9 L294.8,536.4 L295.0,539.2 L295.2,540.3 L295.4,541.5 L295.6,543.3 L295.8,545.9 L295.9,546.7 L296.1,547.9 L296.3,550.5 L296.5,551.6 L297.1,553.4 L297.7,555.6 L298.3,555.8 L298.9,558.0 L299.5,559.6 L299.6,561.8 L299.8,563.6 L299.9,565.5 L300.0,565.8 L300.1,568.0 L300.3,569.4 L300.4,571.3 L300.5,574.2 L300.6,575.4 L300.8,577.7 L300.9,578.7 L301.1,576.8 L301.2,575.9 L301.4,573.5 L301.5,571.5 L301.7,570.6 L301.9,569.2 L302.0,566.1 L302.2,565.2 L302.3,563.5 L302.5,561.6 L303.8,560.0 L305.0,559.1 L306.3,558.1 L306.5,555.9 L306.7,554.3 L306.9,552.7 L307.1,551.6 L307.3,550.0 L307.5,547.7 L307.6,545.7 L307.8,544.5 L308.0,543.4 L308.2,541.0 L308.4,539.5 L308.6,537.7 L308.8,536.5 L309.3,535.4 L309.7,533.5 L310.2,531.2 L310.7,529.7 L311.2,528.6 L311.6,527.3 L312.1,525.9 L312.6,523.5 L313.1,522.1 L313.5,521.4 L314.0,519.5 L314.6,517.7 L315.1,515.8 L315.7,514.2 L316.3,513.5 L316.8,510.8 L317.4,509.5 L318.0,507.5 L318.5,505.9 L319.1,504.4 L320.8,504.1 L322.4,503.5 L324.1,501.8 L325.8,501.5 L327.5,501.2 L329.2,502.0 L331.0,501.1 L332.7,500.7 L334.4,502.1 L336.1,501.4 L336.1,502.8 L337.8,500.9 L339.6,503.6 L341.0,502.1 L342.6,504.5 L344.1,502.9 L345.6,505.4 L347.3,504.0 L349.1,506.8 L350.5,503.3 L352.2,508.9 L353.7,504.9 L355.2,509.3 L356.9,504.2 L358.4,507.4 L359.8,503.5 L361.6,506.4 L363.4,502.2 L364.9,505.6 L366.3,501.1 L368.2,504.9 L369.9,500.9 L371.7,506.4 L373.3,502.2 L374.7,507.5 L376.3,503.4 L378.0,508.3 L379.3,504.5 L380.8,508.9 L382.3,503.5 L384.0,506.3 L385.5,499.9 L387.0,502.8 L388.5,497.6 L390.0,500.3 L391.8,495.5 L393.2,502.4 L395.1,491.9 L396.5,500.1 L397.9,492.2 L399.3,500.3 L400.8,491.6 L402.6,501.5 L404.1,492.1 L405.8,500.7 L407.3,492.9 L408.8,502.1 L410.2,491.9 L411.8,501.9 L413.3,492.5 L414.8,500.8 L416.4,490.9 L418.1,502.0 L419.5,493.1 L421.2,502.1 L422.8,491.8 L424.2,500.9 L426.0,491.3 L427.7,502.4 L429.2,493.1 L430.6,501.3 L432.3,491.1 L434.0,501.6 L435.8,492.3 L437.4,500.2 L439.1,492.9 L440.9,501.7 L442.4,493.1 L443.9,501.6 L445.6,493.0 L447.0,501.2 L448.6,492.2 L450.1,501.3 L451.5,492.4 L453.1,502.1 L454.7,490.9 L456.3,500.2 L457.8,490.6 L459.5,500.3 L460.9,491.6 L462.5,500.5 L464.0,491.1 L465.8,499.9 L467.2,491.8 L468.8,500.9 L470.2,490.6 L471.9,500.4 L473.4,490.1 L474.9,501.0 L476.4,491.8 L478.1,499.7 L479.9,491.0 L481.4,499.4"/><path d="M130.4,487.2 L132.0,487.5 L133.7,487.9 L135.3,486.6 L137.0,487.0 L138.6,486.7 L140.2,488.0 L141.9,486.6 L143.5,486.5 L145.2,486.5 L146.8,487.0 L148.5,487.8 L150.1,487.2 L151.8,487.8 L153.4,487.6 L155.1,488.1 L156.8,488.0 L158.5,487.1 L160.1,486.9 L161.8,488.1 L163.5,487.9 L165.1,486.8 L166.8,487.8 L168.5,487.4 L170.2,487.4 L171.8,487.4 L173.5,487.1 L175.2,486.9 L176.9,487.4 L178.5,487.5 L180.2,487.8 L181.9,487.8 L183.7,485.7 L185.4,486.3 L187.2,484.8 L188.5,485.7 L189.9,487.2 L191.2,488.8 L192.9,489.2 L194.6,489.1 L196.2,488.4 L197.9,487.6 L199.6,488.2 L201.3,487.9 L202.9,488.7 L204.6,487.4 L206.3,487.8 L207.9,488.3 L209.5,489.8 L211.1,489.1 L212.7,490.4 L214.3,491.2 L216.0,491.9 L217.6,492.0 L219.3,491.1 L221.0,491.3 L222.6,491.5 L224.3,492.4 L226.0,493.1 L227.7,492.0 L229.4,492.8 L231.1,493.0 L232.9,492.1 L234.6,492.0 L236.3,493.1 L238.0,492.6 L239.7,492.0 L241.4,492.4 L242.7,494.1 L243.9,494.8 L245.2,496.1 L246.4,497.8 L247.4,498.4 L248.4,501.0 L249.4,502.7 L250.4,503.6 L251.4,504.8 L252.2,507.0 L253.1,507.1 L253.9,508.9 L254.7,510.8 L255.6,513.1 L256.4,513.9 L257.0,516.1 L257.5,516.7 L258.1,518.0 L258.7,519.8 L259.3,521.5 L259.8,523.7 L260.4,524.5 L260.7,522.2 L261.1,521.5 L261.4,519.6 L261.7,518.0 L262.1,516.2 L262.4,514.2 L262.7,512.0 L263.1,510.3 L263.4,508.8 L264.0,507.1 L264.6,506.3 L265.3,503.6 L265.9,502.3 L266.5,501.7 L267.1,499.4 L267.8,497.6 L268.4,496.8 L270.1,494.9 L271.8,494.5 L273.5,493.2 L275.2,493.7 L277.0,495.6 L278.8,496.2 L280.5,496.4 L281.8,498.3 L283.0,498.2 L284.2,499.0 L285.5,500.8 L286.2,501.7 L286.8,503.8 L287.5,505.6 L288.2,506.7 L288.8,507.9 L289.5,509.8 L289.9,511.4 L290.3,513.4 L290.7,515.2 L291.1,517.0 L291.5,518.9 L291.9,520.3 L292.3,521.2 L292.7,524.0 L293.1,524.9 L293.5,526.9 L293.7,528.6 L293.9,530.0 L294.1,532.2 L294.2,532.9 L294.4,534.7 L294.6,536.3 L294.8,537.8 L295.0,540.6 L295.2,541.7 L295.4,542.9 L295.6,544.7 L295.8,547.3 L295.9,548.1 L296.1,549.3 L296.3,551.9 L296.5,553.0 L297.1,554.8 L297.7,557.0 L298.3,557.2 L298.9,559.4 L299.5,561.0 L299.6,563.2 L299.8,565.0 L299.9,566.9 L300.0,567.2 L300.1,569.4 L300.3,570.8 L300.4,572.7 L300.5,575.6 L300.6,576.8 L300.8,579.1 L300.9,580.1 L301.1,578.2 L301.2,577.3 L301.4,574.9 L301.5,572.9 L301.7,572.0 L301.9,570.6 L302.0,567.5 L302.2,566.6 L302.3,564.9 L302.5,563.0 L303.8,561.4 L305.0,560.5 L306.3,559.5 L306.5,557.3 L306.7,555.7 L306.9,554.1 L307.1,553.0 L307.3,551.4 L307.5,549.1 L307.6,547.1 L307.8,545.9 L308.0,544.8 L308.2,542.4 L308.4,540.9 L308.6,539.1 L308.8,537.9 L309.3,536.8 L309.7,534.9 L310.2,532.6 L310.7,531.1 L311.2,530.0 L311.6,528.7 L312.1,527.3 L312.6,524.9 L313.1,523.5 L313.5,522.8 L314.0,520.9 L314.6,519.1 L315.1,517.2 L315.7,515.6 L316.3,514.9 L316.8,512.2 L317.4,510.9 L318.0,508.9 L318.5,507.3 L319.1,505.8 L320.8,505.5 L322.4,504.9 L324.1,503.2 L325.8,502.9 L327.5,502.6 L329.2,503.4 L331.0,502.5 L332.7,502.1 L334.4,503.5 L336.1,502.8 L336.1,504.2 L337.8,502.3 L339.6,505.0 L341.0,503.5 L342.6,505.9 L344.1,504.3 L345.6,506.8 L347.3,505.4 L349.1,508.2 L350.5,504.7 L352.2,510.3 L353.7,506.3 L355.2,510.7 L356.9,505.6 L358.4,508.8 L359.8,504.9 L361.6,507.8 L363.4,503.6 L364.9,507.0 L366.3,502.5 L368.2,506.3 L369.9,502.3 L371.7,507.8 L373.3,503.6 L374.7,508.9 L376.3,504.8 L378.0,509.7 L379.3,505.9 L380.8,510.3 L382.3,504.9 L384.0,507.7 L385.5,501.3 L387.0,504.2 L388.5,499.0 L390.0,501.7 L391.8,496.9 L393.2,503.8 L395.1,493.3 L396.5,501.5 L397.9,493.6 L399.3,501.7 L400.8,493.0 L402.6,502.9 L404.1,493.5 L405.8,502.1 L407.3,494.3 L408.8,503.5 L410.2,493.3 L411.8,503.3 L413.3,493.9 L414.8,502.2 L416.4,492.3 L418.1,503.4 L419.5,494.5 L421.2,503.5 L422.8,493.2 L424.2,502.3 L426.0,492.7 L427.7,503.8 L429.2,494.5 L430.6,502.7 L432.3,492.5 L434.0,503.0 L435.8,493.7 L437.4,501.6 L439.1,494.3 L440.9,503.1 L442.4,494.5 L443.9,503.0 L445.6,494.4 L447.0,502.6 L448.6,493.6 L450.1,502.7 L451.5,493.8 L453.1,503.5 L454.7,492.3 L456.3,501.6 L457.8,492.0 L459.5,501.7 L460.9,493.0 L462.5,501.9 L464.0,492.5 L465.8,501.3 L467.2,493.2 L468.8,502.3 L470.2,492.0 L471.9,501.8 L473.4,491.5 L474.9,502.4 L476.4,493.2 L478.1,501.1 L479.9,492.4 L481.4,500.8"/></g>
<g fill="none" stroke="#343434" stroke-width="2.3" stroke-linejoin="round" stroke-linecap="butt" filter="url(#bl)"><path d="M130.4,616.4 L132.3,616.5 L134.2,618.0 L136.2,617.2 L138.1,618.4 L139.8,618.3 L141.5,618.0 L143.2,617.6 L145.0,617.1 L146.7,618.1 L148.4,616.8 L150.1,617.4 L151.7,617.5 L153.3,618.2 L154.9,616.9 L156.5,617.1 L158.1,617.8 L159.7,617.7 L161.3,617.9 L162.9,618.2 L164.5,617.2 L166.1,617.8 L167.7,617.6 L169.4,617.8 L171.0,617.5 L172.6,619.0 L174.3,619.0 L175.9,619.0 L177.6,618.1 L179.2,619.0 L180.5,618.6 L181.8,617.6 L183.2,616.2 L184.5,615.7 L185.8,614.4 L187.3,615.7 L188.7,616.6 L190.2,618.4 L191.9,618.0 L193.5,618.4 L195.2,618.4 L196.9,619.1 L198.5,620.0 L200.2,619.8 L202.2,618.9 L204.3,617.4 L205.6,619.3 L207.0,620.4 L208.3,621.4 L210.0,621.0 L211.6,621.5 L213.3,621.3 L215.0,621.9 L216.6,621.4 L218.3,621.4 L220.0,621.3 L221.6,622.2 L223.3,622.9 L225.0,622.0 L226.6,623.3 L228.3,623.0 L229.9,622.9 L231.5,624.0 L233.1,624.6 L234.7,626.1 L236.3,626.4 L237.9,628.1 L239.5,628.8 L241.2,629.1 L242.8,631.0 L244.4,631.4 L246.1,631.6 L247.7,632.0 L249.4,633.6 L251.1,633.6 L252.7,634.2 L254.4,634.4 L255.9,634.0 L257.4,633.9 L258.9,632.4 L260.4,631.8 L261.7,631.2 L263.1,629.8 L264.4,628.4 L266.0,629.0 L267.6,628.3 L269.3,628.8 L270.9,628.5 L272.5,628.4 L274.1,628.9 L275.7,629.5 L277.3,631.0 L278.9,630.9 L280.5,632.4 L282.0,634.3 L283.5,634.3 L285.0,635.4 L286.5,637.4 L287.5,638.2 L288.5,640.9 L289.5,641.4 L290.5,642.5 L291.5,644.5 L292.3,645.3 L293.1,647.0 L293.9,649.6 L294.7,651.1 L295.5,652.5 L296.5,651.6 L297.5,650.4 L298.5,648.1 L299.5,647.5 L300.8,646.6 L302.2,645.3 L303.5,644.5 L304.3,643.4 L305.1,641.8 L306.0,640.3 L306.8,637.3 L307.6,636.4 L309.3,637.5 L310.9,638.0 L312.6,637.8 L313.9,637.3 L315.2,634.8 L316.5,633.7 L317.8,632.4 L319.1,631.8 L319.7,632.6 L320.3,635.4 L320.9,636.9 L321.5,638.2 L322.1,639.5 L323.7,640.6 L325.3,640.9 L326.9,641.0 L328.5,641.3 L330.1,642.5 L330.1,643.9 L331.9,641.3 L333.6,644.3 L335.1,642.0 L336.7,644.8 L338.5,642.3 L340.2,644.9 L341.8,642.6 L343.3,645.4 L345.1,642.2 L346.7,647.2 L348.5,642.4 L349.9,647.4 L351.7,641.8 L353.1,647.1 L354.7,641.0 L356.3,646.7 L357.8,640.9 L359.2,645.9 L361.0,640.5 L362.4,645.4 L364.0,640.7 L365.5,645.0 L367.0,640.2 L368.8,644.7 L370.4,639.8 L371.8,645.4 L373.2,639.6 L374.8,644.2 L376.4,638.7 L378.0,642.9 L379.7,637.6 L381.2,642.4 L382.9,634.9 L384.4,642.9 L386.1,634.2 L387.6,641.7 L389.0,634.3 L390.5,640.4 L392.1,632.9 L393.5,641.0 L394.9,631.9 L396.6,642.0 L398.0,629.9 L399.5,642.8 L401.0,628.4 L402.8,641.8 L404.6,630.2 L406.4,640.9 L408.2,627.7 L409.6,641.6 L411.5,630.1 L413.0,641.2 L414.4,627.3 L415.9,641.2 L417.3,628.4 L419.1,639.1 L420.6,628.1 L422.1,638.4 L423.6,629.0 L425.4,640.5 L427.2,629.8 L428.9,639.9 L430.5,629.3 L432.1,643.1 L433.7,630.5 L435.5,641.8 L437.3,630.9 L438.9,643.8 L440.4,629.3 L442.0,641.8 L443.7,630.3 L445.2,642.4 L446.5,628.6 L448.0,641.6 L449.9,628.7 L451.5,639.9 L452.9,630.1 L454.3,641.1 L455.9,629.3 L457.7,640.4 L459.2,629.7 L460.5,640.8 L462.1,632.1 L463.6,642.2 L465.2,631.4 L466.7,644.2 L468.3,633.6 L470.1,643.1 L471.5,633.1 L473.2,644.4 L474.9,631.3 L476.4,641.0 L478.1,630.1 L479.6,642.2 L481.2,628.2"/><path d="M130.4,617.8 L132.3,617.9 L134.2,619.4 L136.2,618.6 L138.1,619.8 L139.8,619.7 L141.5,619.4 L143.2,619.0 L145.0,618.5 L146.7,619.5 L148.4,618.2 L150.1,618.8 L151.7,618.9 L153.3,619.6 L154.9,618.3 L156.5,618.5 L158.1,619.2 L159.7,619.1 L161.3,619.3 L162.9,619.6 L164.5,618.6 L166.1,619.2 L167.7,619.0 L169.4,619.2 L171.0,618.9 L172.6,620.4 L174.3,620.4 L175.9,620.4 L177.6,619.5 L179.2,620.4 L180.5,620.0 L181.8,619.0 L183.2,617.6 L184.5,617.1 L185.8,615.8 L187.3,617.1 L188.7,618.0 L190.2,619.8 L191.9,619.4 L193.5,619.8 L195.2,619.8 L196.9,620.5 L198.5,621.4 L200.2,621.2 L202.2,620.3 L204.3,618.8 L205.6,620.7 L207.0,621.8 L208.3,622.8 L210.0,622.4 L211.6,622.9 L213.3,622.7 L215.0,623.3 L216.6,622.8 L218.3,622.8 L220.0,622.7 L221.6,623.6 L223.3,624.3 L225.0,623.4 L226.6,624.7 L228.3,624.4 L229.9,624.3 L231.5,625.4 L233.1,626.0 L234.7,627.5 L236.3,627.8 L237.9,629.5 L239.5,630.2 L241.2,630.5 L242.8,632.4 L244.4,632.8 L246.1,633.0 L247.7,633.4 L249.4,635.0 L251.1,635.0 L252.7,635.6 L254.4,635.8 L255.9,635.4 L257.4,635.3 L258.9,633.8 L260.4,633.2 L261.7,632.6 L263.1,631.2 L264.4,629.8 L266.0,630.4 L267.6,629.7 L269.3,630.2 L270.9,629.9 L272.5,629.8 L274.1,630.3 L275.7,630.9 L277.3,632.4 L278.9,632.3 L280.5,633.8 L282.0,635.7 L283.5,635.7 L285.0,636.8 L286.5,638.8 L287.5,639.6 L288.5,642.3 L289.5,642.8 L290.5,643.9 L291.5,645.9 L292.3,646.7 L293.1,648.4 L293.9,651.0 L294.7,652.5 L295.5,653.9 L296.5,653.0 L297.5,651.8 L298.5,649.5 L299.5,648.9 L300.8,648.0 L302.2,646.7 L303.5,645.9 L304.3,644.8 L305.1,643.2 L306.0,641.7 L306.8,638.7 L307.6,637.8 L309.3,638.9 L310.9,639.4 L312.6,639.2 L313.9,638.7 L315.2,636.2 L316.5,635.1 L317.8,633.8 L319.1,633.2 L319.7,634.0 L320.3,636.8 L320.9,638.3 L321.5,639.6 L322.1,640.9 L323.7,642.0 L325.3,642.3 L326.9,642.4 L328.5,642.7 L330.1,643.9 L330.1,645.3 L331.9,642.7 L333.6,645.7 L335.1,643.4 L336.7,646.2 L338.5,643.7 L340.2,646.3 L341.8,644.0 L343.3,646.8 L345.1,643.6 L346.7,648.6 L348.5,643.8 L349.9,648.8 L351.7,643.2 L353.1,648.5 L354.7,642.4 L356.3,648.1 L357.8,642.3 L359.2,647.3 L361.0,641.9 L362.4,646.8 L364.0,642.1 L365.5,646.4 L367.0,641.6 L368.8,646.1 L370.4,641.2 L371.8,646.8 L373.2,641.0 L374.8,645.6 L376.4,640.1 L378.0,644.3 L379.7,639.0 L381.2,643.8 L382.9,636.3 L384.4,644.3 L386.1,635.6 L387.6,643.1 L389.0,635.7 L390.5,641.8 L392.1,634.3 L393.5,642.4 L394.9,633.3 L396.6,643.4 L398.0,631.3 L399.5,644.2 L401.0,629.8 L402.8,643.2 L404.6,631.6 L406.4,642.3 L408.2,629.1 L409.6,643.0 L411.5,631.5 L413.0,642.6 L414.4,628.7 L415.9,642.6 L417.3,629.8 L419.1,640.5 L420.6,629.5 L422.1,639.8 L423.6,630.4 L425.4,641.9 L427.2,631.2 L428.9,641.3 L430.5,630.7 L432.1,644.5 L433.7,631.9 L435.5,643.2 L437.3,632.3 L438.9,645.2 L440.4,630.7 L442.0,643.2 L443.7,631.7 L445.2,643.8 L446.5,630.0 L448.0,643.0 L449.9,630.1 L451.5,641.3 L452.9,631.5 L454.3,642.5 L455.9,630.7 L457.7,641.8 L459.2,631.1 L460.5,642.2 L462.1,633.5 L463.6,643.6 L465.2,632.8 L466.7,645.6 L468.3,635.0 L470.1,644.5 L471.5,634.5 L473.2,645.8 L474.9,632.7 L476.4,642.4 L478.1,631.5 L479.6,643.6 L481.2,629.6"/></g>
<g fill="none" stroke="#343434" stroke-width="2.4" stroke-linejoin="round" stroke-linecap="butt" filter="url(#bl)"><path d="M628.4,272.7 L630.1,272.5 L631.7,273.2 L633.4,272.9 L635.1,273.1 L636.8,273.4 L638.4,273.2 L640.1,273.7 L641.7,273.9 L643.2,274.4 L644.8,275.2 L646.4,275.3 L648.0,275.7 L649.5,276.6 L651.1,276.7 L652.7,276.5 L654.4,276.6 L656.0,276.2 L657.6,275.5 L659.2,275.6 L660.9,275.4 L662.5,275.5 L664.1,275.1 L665.7,275.4 L667.2,276.2 L668.8,276.5 L670.4,276.7 L671.9,277.7 L673.5,277.6 L675.1,278.6 L676.6,278.6 L678.2,279.3 L680.0,278.8 L681.9,278.9 L683.7,279.2 L685.5,279.3 L687.4,278.4 L689.2,278.7 L690.6,279.7 L692.0,280.7 L693.3,281.9 L694.7,282.4 L696.1,283.7 L697.5,284.6 L698.8,286.0 L700.2,286.7 L701.3,287.8 L702.4,289.7 L703.6,290.5 L704.7,291.8 L705.8,293.5 L706.9,294.7 L708.1,295.7 L709.2,297.5 L710.3,298.7 L711.1,299.9 L712.0,301.9 L712.8,303.4 L713.6,305.0 L714.5,306.3 L715.3,307.6 L716.1,309.2 L717.0,310.7 L717.8,312.6 L718.6,313.5 L719.5,315.6 L720.3,316.8 L720.8,318.0 L721.3,319.7 L721.8,321.4 L722.3,323.5 L722.8,324.8 L723.3,326.3 L723.8,328.2 L724.3,329.3 L724.8,331.1 L725.3,332.7 L725.8,334.5 L726.3,335.9 L726.7,337.8 L727.1,339.4 L727.5,340.8 L728.0,342.4 L728.4,344.0 L728.8,346.2 L729.2,347.7 L729.6,349.4 L730.0,350.6 L730.5,352.5 L730.9,354.5 L731.3,355.9 L731.6,357.7 L732.0,359.1 L732.3,361.1 L732.6,363.2 L733.0,364.4 L733.3,366.1 L733.6,368.0 L734.0,370.0 L734.3,371.6 L736.3,371.3 L738.4,370.4 L740.6,370.4 L742.8,371.0 L743.1,369.0 L743.3,367.4 L743.6,365.7 L743.8,364.2 L744.1,362.2 L744.4,360.6 L744.6,358.8 L744.9,357.7 L745.1,355.8 L745.4,353.9 L745.6,351.9 L745.9,350.9 L746.1,348.6 L746.4,347.1 L746.6,346.0 L746.9,344.1 L747.1,342.4 L747.4,340.5 L747.6,338.7 L747.9,337.3 L748.1,335.3 L748.4,333.9 L748.8,332.1 L749.2,330.6 L749.6,328.7 L750.0,327.4 L750.4,326.1 L750.8,324.4 L751.2,322.6 L751.6,321.1 L752.0,319.4 L752.4,317.8 L752.9,315.9 L753.4,314.7 L753.9,312.9 L754.4,311.6 L754.9,310.1 L755.4,308.1 L755.9,306.7 L756.4,305.2 L756.9,303.3 L757.4,301.8 L758.4,300.2 L759.4,299.3 L760.4,298.1 L761.4,296.6 L762.4,295.2 L763.4,293.7 L765.4,293.4 L767.4,292.8 L769.4,292.1 L770.5,290.2 L771.5,288.1 L773.2,288.5 L774.8,288.8 L776.5,289.3 L777.7,288.3 L778.9,286.7 L780.1,285.9 L781.3,285.0 L782.5,283.7 L783.9,282.7 L785.3,281.4 L786.7,279.9 L788.1,278.8 L789.5,277.7 L791.5,277.1 L793.5,276.7 L795.5,276.1 L797.3,276.4 L799.1,277.0 L801.0,277.6 L802.8,277.4 L804.6,278.1 L806.5,278.7 L808.5,279.3 L810.4,279.4 L812.3,280.0 L813.7,279.0 L815.0,278.3 L816.4,276.5 L817.7,275.9 L819.1,274.8 L820.7,274.4 L822.4,274.8 L824.0,274.8 L825.6,274.3 L827.3,273.8 L828.9,274.1 L830.6,273.9 L832.2,274.0 L833.8,273.7 L835.5,273.6 L837.1,273.4 L838.8,273.6 L840.5,273.3 L842.1,273.1 L843.8,273.4 L845.5,272.8 L847.2,273.0 L848.8,272.7 L850.5,272.9 L852.2,272.3 L853.9,273.0 L855.5,272.4 L857.2,272.4 L858.8,271.9 L860.4,271.9 L862.0,271.8 L863.6,271.4 L865.2,271.5 L866.8,271.4 L868.4,271.4 L870.0,271.0 L871.6,270.8 L873.2,270.8 L875.2,269.4 L877.2,268.4 L878.7,270.3 L880.2,271.8 L881.6,271.2 L882.9,269.8 L884.3,268.8 L885.6,270.0 L887.0,272.0 L888.3,273.2 L889.5,272.0 L890.8,270.8 L892.0,269.6 L893.3,268.8 L894.3,270.4 L895.3,271.8 L896.3,273.1 L897.3,274.4 L898.2,272.9 L899.1,271.6 L899.9,269.9 L900.8,269.0 L901.7,267.2 L902.1,268.7 L902.4,270.6 L902.8,272.4 L903.1,274.1 L903.5,275.5 L903.9,277.0 L904.2,278.9 L904.6,280.2 L904.9,282.4 L905.3,283.8 L905.8,282.1 L906.2,280.8 L906.6,278.7 L907.1,277.2 L907.5,275.5 L908.0,274.0 L908.4,272.2 L908.9,270.8 L910.3,268.9 L911.7,267.8 L912.2,269.5 L912.8,270.7 L913.3,272.1 L913.8,273.7 L914.3,275.4 L914.9,276.8 L915.4,278.4 L916.4,276.9 L917.4,275.2 L918.4,273.3 L919.4,271.8 L921.2,271.5 L923.0,270.9 L924.8,269.6 L926.6,269.7 L928.4,268.8 L930.2,269.6 L932.0,270.0 L933.8,270.0 L935.6,271.0 L937.4,271.2 L939.1,271.2 L940.9,270.7 L942.6,270.6 L944.3,271.3 L946.0,271.0 L947.8,270.7 L949.5,270.8 L951.2,270.7 L952.9,270.9 L954.6,271.2 L956.4,271.8 L958.1,271.7 L959.8,271.7 L961.5,272.2 L963.2,272.5 L964.8,272.3 L966.5,271.8 L968.2,272.3 L969.8,272.1 L971.5,272.2 L973.2,272.0 L974.8,272.2 L976.5,271.8"/><path d="M628.4,273.5 L630.1,273.3 L631.7,274.0 L633.4,273.7 L635.1,273.9 L636.8,274.2 L638.4,274.0 L640.1,274.5 L641.7,274.7 L643.2,275.2 L644.8,276.0 L646.4,276.1 L648.0,276.5 L649.5,277.4 L651.1,277.5 L652.7,277.3 L654.4,277.4 L656.0,277.0 L657.6,276.3 L659.2,276.4 L660.9,276.2 L662.5,276.3 L664.1,275.9 L665.7,276.2 L667.2,277.0 L668.8,277.3 L670.4,277.5 L671.9,278.5 L673.5,278.4 L675.1,279.4 L676.6,279.4 L678.2,280.1 L680.0,279.6 L681.9,279.7 L683.7,280.0 L685.5,280.1 L687.4,279.2 L689.2,279.5 L690.6,280.5 L692.0,281.5 L693.3,282.7 L694.7,283.2 L696.1,284.5 L697.5,285.4 L698.8,286.8 L700.2,287.5 L701.3,288.6 L702.4,290.5 L703.6,291.3 L704.7,292.6 L705.8,294.3 L706.9,295.5 L708.1,296.5 L709.2,298.3 L710.3,299.5 L711.1,300.7 L712.0,302.7 L712.8,304.2 L713.6,305.8 L714.5,307.1 L715.3,308.4 L716.1,310.0 L717.0,311.5 L717.8,313.4 L718.6,314.3 L719.5,316.4 L720.3,317.6 L720.8,318.8 L721.3,320.5 L721.8,322.2 L722.3,324.3 L722.8,325.6 L723.3,327.1 L723.8,329.0 L724.3,330.1 L724.8,331.9 L725.3,333.5 L725.8,335.3 L726.3,336.7 L726.7,338.6 L727.1,340.2 L727.5,341.6 L728.0,343.2 L728.4,344.8 L728.8,347.0 L729.2,348.5 L729.6,350.2 L730.0,351.4 L730.5,353.3 L730.9,355.3 L731.3,356.7 L731.6,358.5 L732.0,359.9 L732.3,361.9 L732.6,364.0 L733.0,365.2 L733.3,366.9 L733.6,368.8 L734.0,370.8 L734.3,372.4 L736.3,372.1 L738.4,371.2 L740.6,371.2 L742.8,371.8 L743.1,369.8 L743.3,368.2 L743.6,366.5 L743.8,365.0 L744.1,363.0 L744.4,361.4 L744.6,359.6 L744.9,358.5 L745.1,356.6 L745.4,354.7 L745.6,352.7 L745.9,351.7 L746.1,349.4 L746.4,347.9 L746.6,346.8 L746.9,344.9 L747.1,343.2 L747.4,341.3 L747.6,339.5 L747.9,338.1 L748.1,336.1 L748.4,334.7 L748.8,332.9 L749.2,331.4 L749.6,329.5 L750.0,328.2 L750.4,326.9 L750.8,325.2 L751.2,323.4 L751.6,321.9 L752.0,320.2 L752.4,318.6 L752.9,316.7 L753.4,315.5 L753.9,313.7 L754.4,312.4 L754.9,310.9 L755.4,308.9 L755.9,307.5 L756.4,306.0 L756.9,304.1 L757.4,302.6 L758.4,301.0 L759.4,300.1 L760.4,298.9 L761.4,297.4 L762.4,296.0 L763.4,294.5 L765.4,294.2 L767.4,293.6 L769.4,292.9 L770.5,291.0 L771.5,288.9 L773.2,289.3 L774.8,289.6 L776.5,290.1 L777.7,289.1 L778.9,287.5 L780.1,286.7 L781.3,285.8 L782.5,284.5 L783.9,283.5 L785.3,282.2 L786.7,280.7 L788.1,279.6 L789.5,278.5 L791.5,277.9 L793.5,277.5 L795.5,276.9 L797.3,277.2 L799.1,277.8 L801.0,278.4 L802.8,278.2 L804.6,278.9 L806.5,279.5 L808.5,280.1 L810.4,280.2 L812.3,280.8 L813.7,279.8 L815.0,279.1 L816.4,277.3 L817.7,276.7 L819.1,275.6 L820.7,275.2 L822.4,275.6 L824.0,275.6 L825.6,275.1 L827.3,274.6 L828.9,274.9 L830.6,274.7 L832.2,274.8 L833.8,274.5 L835.5,274.4 L837.1,274.2 L838.8,274.4 L840.5,274.1 L842.1,273.9 L843.8,274.2 L845.5,273.6 L847.2,273.8 L848.8,273.5 L850.5,273.7 L852.2,273.1 L853.9,273.8 L855.5,273.2 L857.2,273.2 L858.8,272.7 L860.4,272.7 L862.0,272.6 L863.6,272.2 L865.2,272.3 L866.8,272.2 L868.4,272.2 L870.0,271.8 L871.6,271.6 L873.2,271.6 L875.2,270.2 L877.2,269.2 L878.7,271.1 L880.2,272.6 L881.6,272.0 L882.9,270.6 L884.3,269.6 L885.6,270.8 L887.0,272.8 L888.3,274.0 L889.5,272.8 L890.8,271.6 L892.0,270.4 L893.3,269.6 L894.3,271.2 L895.3,272.6 L896.3,273.9 L897.3,275.2 L898.2,273.7 L899.1,272.4 L899.9,270.7 L900.8,269.8 L901.7,268.0 L902.1,269.5 L902.4,271.4 L902.8,273.2 L903.1,274.9 L903.5,276.3 L903.9,277.8 L904.2,279.7 L904.6,281.0 L904.9,283.2 L905.3,284.6 L905.8,282.9 L906.2,281.6 L906.6,279.5 L907.1,278.0 L907.5,276.3 L908.0,274.8 L908.4,273.0 L908.9,271.6 L910.3,269.7 L911.7,268.6 L912.2,270.3 L912.8,271.5 L913.3,272.9 L913.8,274.5 L914.3,276.2 L914.9,277.6 L915.4,279.2 L916.4,277.7 L917.4,276.0 L918.4,274.1 L919.4,272.6 L921.2,272.3 L923.0,271.7 L924.8,270.4 L926.6,270.5 L928.4,269.6 L930.2,270.4 L932.0,270.8 L933.8,270.8 L935.6,271.8 L937.4,272.0 L939.1,272.0 L940.9,271.5 L942.6,271.4 L944.3,272.1 L946.0,271.8 L947.8,271.5 L949.5,271.6 L951.2,271.5 L952.9,271.7 L954.6,272.0 L956.4,272.6 L958.1,272.5 L959.8,272.5 L961.5,273.0 L963.2,273.3 L964.8,273.1 L966.5,272.6 L968.2,273.1 L969.8,272.9 L971.5,273.0 L973.2,272.8 L974.8,273.0 L976.5,272.6"/></g>
<g fill="none" stroke="#343434" stroke-width="2.8" stroke-linejoin="round" stroke-linecap="butt" filter="url(#bl)"><path d="M628.8,366.1 L634.4,368.5 L640.9,369.3 L644.1,380.5 L646.5,375.7 L649.7,382.9 L652.9,381.6 L656.1,386.9 L659.3,377.3 L663.3,373.6 L668.1,377.3 L673.0,379.7 L676.2,375.7 L678.6,391.0 L681.8,391.0 L685.0,413.4 L688.2,399.0 L691.4,395.0 L694.6,388.6 L697.8,395.0 L701.0,394.2 L703.5,407.0 L705.9,402.2 L709.1,413.4 L712.3,405.4 L715.5,416.6 L718.2,410.2 L721.4,424.7 L724.3,414.2 L727.5,433.5 L729.9,423.9 L733.1,441.5 L735.6,427.9 L738.8,454.3 L741.5,435.9 L744.4,454.3 L747.3,434.3 L750.3,455.1 L753.2,429.5 L756.1,442.3 L759.3,418.2 L762.3,433.1 L765.6,411.8 L768.4,421.6 L771.9,406.1 L774.7,420.9 L777.6,406.1 L781.1,422.3 L785.3,398.4 L788.1,413.9 L789.8,406.1 L793.0,426.5 L797.2,407.5 L800.0,418.1 L803.5,397.0 L806.3,405.4 L809.4,386.5 L812.2,394.2 L815.5,379.5 L818.3,385.8 L821.4,375.9 L824.6,385.8 L827.8,375.9 L830.9,383.7 L834.1,375.9 L837.0,383.0 L839.8,378.0 L842.9,385.8 L845.9,378.8 L849.2,383.0 L852.4,374.3 L855.5,378.8 L858.3,369.6 L861.4,373.1 L864.6,364.4 L867.4,371.0 L870.9,359.8 L873.7,362.6 L877.3,354.9 L879.3,344.1 L880.8,356.3 L882.9,348.6 L885.7,365.4 L888.5,354.9 L892.0,371.0 L894.8,364.0 L898.3,374.6 L901.3,363.7 L905.3,372.7 L908.3,365.7 L911.3,373.7 L914.4,361.7 L917.4,368.7 L920.4,356.7 L923.4,368.7 L926.4,359.7 L926.4,364.2 L928.3,359.7 L930.1,364.0 L931.9,359.4 L933.8,364.0 L935.4,359.7 L936.9,364.0 L938.4,359.7 L939.9,364.5 L941.6,360.3 L943.5,364.7 L945.3,361.1 L947.1,366.2 L948.9,362.0 L950.6,367.3 L952.1,362.2 L953.9,366.2 L955.6,361.9 L957.5,366.3 L959.5,361.7 L961.2,366.7 L962.6,361.2 L964.4,365.5 L966.3,360.7 L968.0,364.7 L969.8,359.9 L971.5,363.5 L973.2,358.1 L974.8,362.7 L976.4,356.8"/><path d="M628.8,366.9 L634.4,369.3 L640.9,370.1 L644.1,381.3 L646.5,376.5 L649.7,383.7 L652.9,382.4 L656.1,387.7 L659.3,378.1 L663.3,374.4 L668.1,378.1 L673.0,380.5 L676.2,376.5 L678.6,391.8 L681.8,391.8 L685.0,414.2 L688.2,399.8 L691.4,395.8 L694.6,389.4 L697.8,395.8 L701.0,395.0 L703.5,407.8 L705.9,403.0 L709.1,414.2 L712.3,406.2 L715.5,417.4 L718.2,411.0 L721.4,425.5 L724.3,415.0 L727.5,434.3 L729.9,424.7 L733.1,442.3 L735.6,428.7 L738.8,455.1 L741.5,436.7 L744.4,455.1 L747.3,435.1 L750.3,455.9 L753.2,430.3 L756.1,443.1 L759.3,419.0 L762.3,433.9 L765.6,412.6 L768.4,422.4 L771.9,406.9 L774.7,421.7 L777.6,406.9 L781.1,423.1 L785.3,399.2 L788.1,414.7 L789.8,406.9 L793.0,427.3 L797.2,408.3 L800.0,418.9 L803.5,397.8 L806.3,406.2 L809.4,387.3 L812.2,395.0 L815.5,380.3 L818.3,386.6 L821.4,376.7 L824.6,386.6 L827.8,376.7 L830.9,384.5 L834.1,376.7 L837.0,383.8 L839.8,378.8 L842.9,386.6 L845.9,379.6 L849.2,383.8 L852.4,375.1 L855.5,379.6 L858.3,370.4 L861.4,373.9 L864.6,365.2 L867.4,371.8 L870.9,360.6 L873.7,363.4 L877.3,355.7 L879.3,344.9 L880.8,357.1 L882.9,349.4 L885.7,366.2 L888.5,355.7 L892.0,371.8 L894.8,364.8 L898.3,375.4 L901.3,364.5 L905.3,373.5 L908.3,366.5 L911.3,374.5 L914.4,362.5 L917.4,369.5 L920.4,357.5 L923.4,369.5 L926.4,360.5 L926.4,365.0 L928.3,360.5 L930.1,364.8 L931.9,360.2 L933.8,364.8 L935.4,360.5 L936.9,364.8 L938.4,360.5 L939.9,365.3 L941.6,361.1 L943.5,365.5 L945.3,361.9 L947.1,367.0 L948.9,362.8 L950.6,368.1 L952.1,363.0 L953.9,367.0 L955.6,362.7 L957.5,367.1 L959.5,362.5 L961.2,367.5 L962.6,362.0 L964.4,366.3 L966.3,361.5 L968.0,365.5 L969.8,360.7 L971.5,364.3 L973.2,358.9 L974.8,363.5 L976.4,357.6"/></g>
<g fill="none" stroke="#343434" stroke-width="2.8" stroke-linejoin="round" stroke-linecap="butt" filter="url(#bl)"><path d="M628.8,493.7 L633.6,495.3 L638.5,495.3 L642.5,502.5 L644.9,500.9 L648.1,506.5 L651.3,505.7 L655.3,513.7 L658.5,508.9 L662.0,503.3 L666.5,506.5 L671.4,508.1 L674.6,505.7 L677.8,514.5 L681.0,513.7 L684.2,527.4 L686.6,525.8 L689.8,535.4 L693.0,531.4 L696.2,537.0 L699.4,532.2 L702.7,541.0 L705.9,535.4 L709.1,548.2 L711.8,541.8 L715.2,562.1 L717.2,556.6 L720.2,582.2 L722.7,571.5 L726.0,602.6 L728.3,597.1 L731.6,639.1 L733.8,610.8 L735.6,645.4 L737.1,673.7 L738.5,641.8 L740.2,619.9 L742.6,649.1 L744.4,616.2 L746.6,598.9 L748.8,621.7 L751.1,594.3 L753.0,578.8 L754.8,590.7 L757.9,562.4 L761.2,578.8 L764.5,556.0 L767.0,564.2 L770.3,545.6 L773.5,555.1 L776.3,534.3 L779.0,540.4 L781.9,520.8 L784.4,501.1 L786.1,512.3 L788.2,506.0 L791.7,522.2 L794.5,513.0 L797.6,521.5 L800.8,511.6 L804.3,522.2 L807.1,513.8 L810.6,520.1 L814.2,509.5 L817.0,513.0 L819.8,506.0 L822.6,511.6 L826.1,505.3 L828.9,509.5 L832.4,505.3 L835.2,510.2 L838.7,506.0 L842.2,510.2 L845.7,506.7 L849.3,511.6 L852.8,506.7 L854.9,512.3 L858.4,506.7 L861.2,510.9 L863.3,504.6 L865.4,510.9 L867.5,499.7 L870.3,498.3 L873.8,491.3 L876.6,493.4 L877.8,479.3 L879.0,492.0 L880.4,484.3 L882.3,494.1 L883.7,498.3 L886.1,486.4 L890.0,501.1 L892.8,494.1 L896.3,502.5 L899.8,492.7 L903.8,499.1 L908.3,500.7 L912.3,489.7 L915.4,497.7 L918.4,486.7 L921.4,495.7 L924.4,487.7 L929.4,492.7 L929.4,494.7 L931.5,490.1 L933.4,494.1 L935.1,490.1 L937.0,494.0 L938.9,490.7 L940.8,495.5 L942.7,492.1 L944.4,495.9 L946.0,492.7 L947.8,499.3 L949.8,496.1 L951.7,501.2 L953.5,497.0 L955.4,502.0 L957.0,497.7 L958.8,503.0 L960.4,499.4 L961.9,504.2 L964.0,500.3 L965.7,505.6 L967.6,501.7 L969.3,506.4 L971.1,502.4 L972.8,506.1 L974.9,501.8"/><path d="M628.8,494.5 L633.6,496.1 L638.5,496.1 L642.5,503.3 L644.9,501.7 L648.1,507.3 L651.3,506.5 L655.3,514.5 L658.5,509.7 L662.0,504.1 L666.5,507.3 L671.4,508.9 L674.6,506.5 L677.8,515.3 L681.0,514.5 L684.2,528.2 L686.6,526.6 L689.8,536.2 L693.0,532.2 L696.2,537.8 L699.4,533.0 L702.7,541.8 L705.9,536.2 L709.1,549.0 L711.8,542.6 L715.2,562.9 L717.2,557.4 L720.2,583.0 L722.7,572.3 L726.0,603.4 L728.3,597.9 L731.6,639.9 L733.8,611.6 L735.6,646.2 L737.1,674.5 L738.5,642.6 L740.2,620.7 L742.6,649.9 L744.4,617.0 L746.6,599.7 L748.8,622.5 L751.1,595.1 L753.0,579.6 L754.8,591.5 L757.9,563.2 L761.2,579.6 L764.5,556.8 L767.0,565.0 L770.3,546.4 L773.5,555.9 L776.3,535.1 L779.0,541.2 L781.9,521.6 L784.4,501.9 L786.1,513.1 L788.2,506.8 L791.7,523.0 L794.5,513.8 L797.6,522.3 L800.8,512.4 L804.3,523.0 L807.1,514.6 L810.6,520.9 L814.2,510.3 L817.0,513.8 L819.8,506.8 L822.6,512.4 L826.1,506.1 L828.9,510.3 L832.4,506.1 L835.2,511.0 L838.7,506.8 L842.2,511.0 L845.7,507.5 L849.3,512.4 L852.8,507.5 L854.9,513.1 L858.4,507.5 L861.2,511.7 L863.3,505.4 L865.4,511.7 L867.5,500.5 L870.3,499.1 L873.8,492.1 L876.6,494.2 L877.8,480.1 L879.0,492.8 L880.4,485.1 L882.3,494.9 L883.7,499.1 L886.1,487.2 L890.0,501.9 L892.8,494.9 L896.3,503.3 L899.8,493.5 L903.8,499.9 L908.3,501.5 L912.3,490.5 L915.4,498.5 L918.4,487.5 L921.4,496.5 L924.4,488.5 L929.4,493.5 L929.4,495.5 L931.5,490.9 L933.4,494.9 L935.1,490.9 L937.0,494.8 L938.9,491.5 L940.8,496.3 L942.7,492.9 L944.4,496.7 L946.0,493.5 L947.8,500.1 L949.8,496.9 L951.7,502.0 L953.5,497.8 L955.4,502.8 L957.0,498.5 L958.8,503.8 L960.4,500.2 L961.9,505.0 L964.0,501.1 L965.7,506.4 L967.6,502.5 L969.3,507.2 L971.1,503.2 L972.8,506.9 L974.9,502.6"/></g>
</svg></body></html>
